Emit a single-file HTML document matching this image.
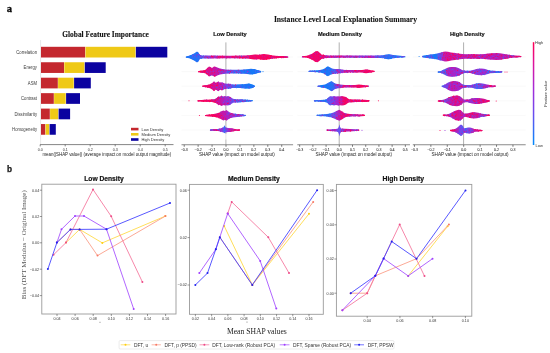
<!DOCTYPE html>
<html><head><meta charset="utf-8"><style>
html,body{margin:0;padding:0;background:#fff;}
body{width:550px;height:353px;overflow:hidden;}
svg{display:block;will-change:transform;}
</style></head><body>
<svg width="550" height="353" viewBox="0 0 550 353">
<rect width="550" height="353" fill="#fff"/>
<text x="6.70" y="12.30" font-family='"Liberation Serif",serif' font-size="10.6" font-weight="bold" text-anchor="start" fill="#111"  stroke="#111" stroke-width="0.3">a</text>
<text x="62.30" y="36.90" font-family='"Liberation Serif",serif' font-size="7.2" font-weight="bold" text-anchor="start" fill="#111"  textLength="86.4" lengthAdjust="spacingAndGlyphs" stroke="#111" stroke-width="0.1">Global Feature Importance</text>
<line x1="40.6" y1="40" x2="40.6" y2="144.6" stroke="#d8d8d8" stroke-width="0.6"/>
<rect x="41.0" y="46.80" width="44.20" height="10.7" fill="#c4282e"/>
<rect x="85.50" y="46.80" width="50.00" height="10.7" fill="#efc916"/>
<rect x="135.90" y="46.80" width="31.40" height="10.7" fill="#0b02a0"/>
<text x="37.00" y="53.75" font-family='"Liberation Sans",sans-serif' font-size="4.5" font-weight="normal" text-anchor="end" fill="#3a3a3a"  textLength="20.69" lengthAdjust="spacingAndGlyphs">Correlation</text>
<rect x="41.0" y="62.25" width="23.00" height="10.7" fill="#c4282e"/>
<rect x="64.30" y="62.25" width="20.10" height="10.7" fill="#efc916"/>
<rect x="84.80" y="62.25" width="20.90" height="10.7" fill="#0b02a0"/>
<text x="37.00" y="69.20" font-family='"Liberation Sans",sans-serif' font-size="4.5" font-weight="normal" text-anchor="end" fill="#3a3a3a"  textLength="13.4" lengthAdjust="spacingAndGlyphs">Energy</text>
<rect x="41.0" y="77.70" width="16.80" height="10.7" fill="#c4282e"/>
<rect x="58.10" y="77.70" width="15.60" height="10.7" fill="#efc916"/>
<rect x="74.10" y="77.70" width="16.70" height="10.7" fill="#0b02a0"/>
<text x="37.00" y="84.65" font-family='"Liberation Sans",sans-serif' font-size="4.5" font-weight="normal" text-anchor="end" fill="#3a3a3a"  textLength="9.17" lengthAdjust="spacingAndGlyphs">ASM</text>
<rect x="41.0" y="93.15" width="12.80" height="10.7" fill="#c4282e"/>
<rect x="54.10" y="93.15" width="11.60" height="10.7" fill="#efc916"/>
<rect x="66.10" y="93.15" width="13.90" height="10.7" fill="#0b02a0"/>
<text x="37.00" y="100.10" font-family='"Liberation Sans",sans-serif' font-size="4.5" font-weight="normal" text-anchor="end" fill="#3a3a3a"  textLength="15.99" lengthAdjust="spacingAndGlyphs">Contrast</text>
<rect x="41.0" y="108.60" width="8.80" height="10.7" fill="#c4282e"/>
<rect x="50.10" y="108.60" width="8.10" height="10.7" fill="#efc916"/>
<rect x="58.60" y="108.60" width="11.50" height="10.7" fill="#0b02a0"/>
<text x="37.00" y="115.55" font-family='"Liberation Sans",sans-serif' font-size="4.5" font-weight="normal" text-anchor="end" fill="#3a3a3a"  textLength="22.56" lengthAdjust="spacingAndGlyphs">Dissimilarity</text>
<rect x="41.0" y="124.05" width="4.30" height="10.7" fill="#c4282e"/>
<rect x="45.60" y="124.05" width="3.60" height="10.7" fill="#efc916"/>
<rect x="49.60" y="124.05" width="6.20" height="10.7" fill="#0b02a0"/>
<text x="37.00" y="131.00" font-family='"Liberation Sans",sans-serif' font-size="4.5" font-weight="normal" text-anchor="end" fill="#3a3a3a"  textLength="24.92" lengthAdjust="spacingAndGlyphs">Homogeneity</text>
<line x1="40.2" y1="144.6" x2="173.5" y2="144.6" stroke="#333" stroke-width="0.6"/>
<line x1="40.20" y1="144.6" x2="40.20" y2="146.4" stroke="#333" stroke-width="0.6"/>
<text x="40.20" y="151.00" font-family='"Liberation Sans",sans-serif' font-size="3.7" font-weight="normal" text-anchor="middle" fill="#333" >0.0</text>
<line x1="65.20" y1="144.6" x2="65.20" y2="146.4" stroke="#333" stroke-width="0.6"/>
<text x="65.20" y="151.00" font-family='"Liberation Sans",sans-serif' font-size="3.7" font-weight="normal" text-anchor="middle" fill="#333" >0.1</text>
<line x1="90.20" y1="144.6" x2="90.20" y2="146.4" stroke="#333" stroke-width="0.6"/>
<text x="90.20" y="151.00" font-family='"Liberation Sans",sans-serif' font-size="3.7" font-weight="normal" text-anchor="middle" fill="#333" >0.2</text>
<line x1="115.20" y1="144.6" x2="115.20" y2="146.4" stroke="#333" stroke-width="0.6"/>
<text x="115.20" y="151.00" font-family='"Liberation Sans",sans-serif' font-size="3.7" font-weight="normal" text-anchor="middle" fill="#333" >0.3</text>
<line x1="140.20" y1="144.6" x2="140.20" y2="146.4" stroke="#333" stroke-width="0.6"/>
<text x="140.20" y="151.00" font-family='"Liberation Sans",sans-serif' font-size="3.7" font-weight="normal" text-anchor="middle" fill="#333" >0.4</text>
<line x1="165.20" y1="144.6" x2="165.20" y2="146.4" stroke="#333" stroke-width="0.6"/>
<text x="165.20" y="151.00" font-family='"Liberation Sans",sans-serif' font-size="3.7" font-weight="normal" text-anchor="middle" fill="#333" >0.5</text>
<text x="42.40" y="156.40" font-family='"Liberation Sans",sans-serif' font-size="4.42" font-weight="normal" text-anchor="start" fill="#222" >mean(|SHAP value|) (average impact on model output magnitude)</text>
<rect x="131" y="127.80" width="7.5" height="2.6" fill="#c4282e"/>
<text x="141.50" y="130.50" font-family='"Liberation Sans",sans-serif' font-size="4.0" font-weight="normal" text-anchor="start" fill="#333" >Low Density</text>
<rect x="131" y="133.00" width="7.5" height="2.6" fill="#efc916"/>
<text x="141.50" y="135.70" font-family='"Liberation Sans",sans-serif' font-size="4.0" font-weight="normal" text-anchor="start" fill="#333" >Medium Density</text>
<rect x="131" y="138.20" width="7.5" height="2.6" fill="#0b02a0"/>
<text x="141.50" y="140.90" font-family='"Liberation Sans",sans-serif' font-size="4.0" font-weight="normal" text-anchor="start" fill="#333" >High Density</text>
<text x="273.90" y="21.80" font-family='"Liberation Serif",serif' font-size="7.2" font-weight="bold" text-anchor="start" fill="#111"  textLength="143.1" lengthAdjust="spacingAndGlyphs" stroke="#111" stroke-width="0.08">Instance Level Local Explanation Summary</text>
<text x="213.20" y="35.90" font-family='"Liberation Sans",sans-serif' font-size="5.5" font-weight="bold" text-anchor="start" fill="#111"  textLength="33.6" lengthAdjust="spacingAndGlyphs" stroke="#111" stroke-width="0.16">Low Density</text>
<text x="317.90" y="35.70" font-family='"Liberation Sans",sans-serif' font-size="5.5" font-weight="bold" text-anchor="start" fill="#111"  textLength="44.0" lengthAdjust="spacingAndGlyphs" stroke="#111" stroke-width="0.16">Medium Density</text>
<text x="450.00" y="35.90" font-family='"Liberation Sans",sans-serif' font-size="5.5" font-weight="bold" text-anchor="start" fill="#111"  textLength="34.7" lengthAdjust="spacingAndGlyphs" stroke="#111" stroke-width="0.16">High Density</text>
<line x1="181.5" y1="57.0" x2="293.1" y2="57.0" stroke="#f2f2f2" stroke-width="0.5"/>
<line x1="181.5" y1="71.6" x2="293.1" y2="71.6" stroke="#f2f2f2" stroke-width="0.5"/>
<line x1="181.5" y1="86.2" x2="293.1" y2="86.2" stroke="#f2f2f2" stroke-width="0.5"/>
<line x1="181.5" y1="100.8" x2="293.1" y2="100.8" stroke="#f2f2f2" stroke-width="0.5"/>
<line x1="181.5" y1="115.4" x2="293.1" y2="115.4" stroke="#f2f2f2" stroke-width="0.5"/>
<line x1="181.5" y1="130.0" x2="293.1" y2="130.0" stroke="#f2f2f2" stroke-width="0.5"/>
<line x1="225.9" y1="42.4" x2="225.9" y2="134" stroke="#b0b0b0" stroke-width="1.0"/>
<line x1="225.9" y1="134" x2="225.9" y2="139.5" stroke="#e2e2e2" stroke-width="0.9"/>
<line x1="225.9" y1="139.5" x2="225.9" y2="144.7" stroke="#b0b0b0" stroke-width="0.9"/>
<line x1="181.5" y1="144.75" x2="293.1" y2="144.75" stroke="#8a8a8a" stroke-width="1.0"/>
<line x1="184.21" y1="144.8" x2="184.21" y2="146.8" stroke="#444" stroke-width="0.7"/>
<text x="184.21" y="150.90" font-family='"Liberation Sans",sans-serif' font-size="3.6" font-weight="normal" text-anchor="middle" fill="#333"  stroke="#333" stroke-width="0.06">−0.3</text>
<line x1="198.14" y1="144.8" x2="198.14" y2="146.8" stroke="#444" stroke-width="0.7"/>
<text x="198.14" y="150.90" font-family='"Liberation Sans",sans-serif' font-size="3.6" font-weight="normal" text-anchor="middle" fill="#333"  stroke="#333" stroke-width="0.06">−0.2</text>
<line x1="212.07" y1="144.8" x2="212.07" y2="146.8" stroke="#444" stroke-width="0.7"/>
<text x="212.07" y="150.90" font-family='"Liberation Sans",sans-serif' font-size="3.6" font-weight="normal" text-anchor="middle" fill="#333"  stroke="#333" stroke-width="0.06">−0.1</text>
<line x1="226.00" y1="144.8" x2="226.00" y2="146.8" stroke="#444" stroke-width="0.7"/>
<text x="226.00" y="150.90" font-family='"Liberation Sans",sans-serif' font-size="3.6" font-weight="normal" text-anchor="middle" fill="#333"  stroke="#333" stroke-width="0.06">0.0</text>
<line x1="239.93" y1="144.8" x2="239.93" y2="146.8" stroke="#444" stroke-width="0.7"/>
<text x="239.93" y="150.90" font-family='"Liberation Sans",sans-serif' font-size="3.6" font-weight="normal" text-anchor="middle" fill="#333"  stroke="#333" stroke-width="0.06">0.1</text>
<line x1="253.86" y1="144.8" x2="253.86" y2="146.8" stroke="#444" stroke-width="0.7"/>
<text x="253.86" y="150.90" font-family='"Liberation Sans",sans-serif' font-size="3.6" font-weight="normal" text-anchor="middle" fill="#333"  stroke="#333" stroke-width="0.06">0.2</text>
<line x1="267.79" y1="144.8" x2="267.79" y2="146.8" stroke="#444" stroke-width="0.7"/>
<text x="267.79" y="150.90" font-family='"Liberation Sans",sans-serif' font-size="3.6" font-weight="normal" text-anchor="middle" fill="#333"  stroke="#333" stroke-width="0.06">0.3</text>
<line x1="281.72" y1="144.8" x2="281.72" y2="146.8" stroke="#444" stroke-width="0.7"/>
<text x="281.72" y="150.90" font-family='"Liberation Sans",sans-serif' font-size="3.6" font-weight="normal" text-anchor="middle" fill="#333"  stroke="#333" stroke-width="0.06">0.4</text>
<line x1="297.3" y1="57.0" x2="410.0" y2="57.0" stroke="#f2f2f2" stroke-width="0.5"/>
<line x1="297.3" y1="71.6" x2="410.0" y2="71.6" stroke="#f2f2f2" stroke-width="0.5"/>
<line x1="297.3" y1="86.2" x2="410.0" y2="86.2" stroke="#f2f2f2" stroke-width="0.5"/>
<line x1="297.3" y1="100.8" x2="410.0" y2="100.8" stroke="#f2f2f2" stroke-width="0.5"/>
<line x1="297.3" y1="115.4" x2="410.0" y2="115.4" stroke="#f2f2f2" stroke-width="0.5"/>
<line x1="297.3" y1="130.0" x2="410.0" y2="130.0" stroke="#f2f2f2" stroke-width="0.5"/>
<line x1="339.2" y1="42.4" x2="339.2" y2="144.7" stroke="#b0b0b0" stroke-width="1.0"/>
<line x1="297.3" y1="144.75" x2="410.0" y2="144.75" stroke="#8a8a8a" stroke-width="1.0"/>
<line x1="299.67" y1="144.8" x2="299.67" y2="146.8" stroke="#444" stroke-width="0.7"/>
<text x="299.67" y="150.90" font-family='"Liberation Sans",sans-serif' font-size="3.6" font-weight="normal" text-anchor="middle" fill="#333"  stroke="#333" stroke-width="0.06">−0.3</text>
<line x1="312.88" y1="144.8" x2="312.88" y2="146.8" stroke="#444" stroke-width="0.7"/>
<text x="312.88" y="150.90" font-family='"Liberation Sans",sans-serif' font-size="3.6" font-weight="normal" text-anchor="middle" fill="#333"  stroke="#333" stroke-width="0.06">−0.2</text>
<line x1="326.09" y1="144.8" x2="326.09" y2="146.8" stroke="#444" stroke-width="0.7"/>
<text x="326.09" y="150.90" font-family='"Liberation Sans",sans-serif' font-size="3.6" font-weight="normal" text-anchor="middle" fill="#333"  stroke="#333" stroke-width="0.06">−0.1</text>
<line x1="339.30" y1="144.8" x2="339.30" y2="146.8" stroke="#444" stroke-width="0.7"/>
<text x="339.30" y="150.90" font-family='"Liberation Sans",sans-serif' font-size="3.6" font-weight="normal" text-anchor="middle" fill="#333"  stroke="#333" stroke-width="0.06">0.0</text>
<line x1="352.51" y1="144.8" x2="352.51" y2="146.8" stroke="#444" stroke-width="0.7"/>
<text x="352.51" y="150.90" font-family='"Liberation Sans",sans-serif' font-size="3.6" font-weight="normal" text-anchor="middle" fill="#333"  stroke="#333" stroke-width="0.06">0.1</text>
<line x1="365.72" y1="144.8" x2="365.72" y2="146.8" stroke="#444" stroke-width="0.7"/>
<text x="365.72" y="150.90" font-family='"Liberation Sans",sans-serif' font-size="3.6" font-weight="normal" text-anchor="middle" fill="#333"  stroke="#333" stroke-width="0.06">0.2</text>
<line x1="378.93" y1="144.8" x2="378.93" y2="146.8" stroke="#444" stroke-width="0.7"/>
<text x="378.93" y="150.90" font-family='"Liberation Sans",sans-serif' font-size="3.6" font-weight="normal" text-anchor="middle" fill="#333"  stroke="#333" stroke-width="0.06">0.3</text>
<line x1="392.14" y1="144.8" x2="392.14" y2="146.8" stroke="#444" stroke-width="0.7"/>
<text x="392.14" y="150.90" font-family='"Liberation Sans",sans-serif' font-size="3.6" font-weight="normal" text-anchor="middle" fill="#333"  stroke="#333" stroke-width="0.06">0.4</text>
<line x1="405.35" y1="144.8" x2="405.35" y2="146.8" stroke="#444" stroke-width="0.7"/>
<text x="405.35" y="150.90" font-family='"Liberation Sans",sans-serif' font-size="3.6" font-weight="normal" text-anchor="middle" fill="#333"  stroke="#333" stroke-width="0.06">0.5</text>
<line x1="412.8" y1="57.0" x2="525.7" y2="57.0" stroke="#f2f2f2" stroke-width="0.5"/>
<line x1="412.8" y1="71.6" x2="525.7" y2="71.6" stroke="#f2f2f2" stroke-width="0.5"/>
<line x1="412.8" y1="86.2" x2="525.7" y2="86.2" stroke="#f2f2f2" stroke-width="0.5"/>
<line x1="412.8" y1="100.8" x2="525.7" y2="100.8" stroke="#f2f2f2" stroke-width="0.5"/>
<line x1="412.8" y1="115.4" x2="525.7" y2="115.4" stroke="#f2f2f2" stroke-width="0.5"/>
<line x1="412.8" y1="130.0" x2="525.7" y2="130.0" stroke="#f2f2f2" stroke-width="0.5"/>
<line x1="463.59999999999997" y1="42.4" x2="463.59999999999997" y2="144.7" stroke="#b0b0b0" stroke-width="1.0"/>
<line x1="412.8" y1="144.75" x2="525.7" y2="144.75" stroke="#8a8a8a" stroke-width="1.0"/>
<line x1="414.44" y1="144.8" x2="414.44" y2="146.8" stroke="#444" stroke-width="0.7"/>
<text x="414.44" y="150.90" font-family='"Liberation Sans",sans-serif' font-size="3.6" font-weight="normal" text-anchor="middle" fill="#333"  stroke="#333" stroke-width="0.06">−0.3</text>
<line x1="430.86" y1="144.8" x2="430.86" y2="146.8" stroke="#444" stroke-width="0.7"/>
<text x="430.86" y="150.90" font-family='"Liberation Sans",sans-serif' font-size="3.6" font-weight="normal" text-anchor="middle" fill="#333"  stroke="#333" stroke-width="0.06">−0.2</text>
<line x1="447.28" y1="144.8" x2="447.28" y2="146.8" stroke="#444" stroke-width="0.7"/>
<text x="447.28" y="150.90" font-family='"Liberation Sans",sans-serif' font-size="3.6" font-weight="normal" text-anchor="middle" fill="#333"  stroke="#333" stroke-width="0.06">−0.1</text>
<line x1="463.70" y1="144.8" x2="463.70" y2="146.8" stroke="#444" stroke-width="0.7"/>
<text x="463.70" y="150.90" font-family='"Liberation Sans",sans-serif' font-size="3.6" font-weight="normal" text-anchor="middle" fill="#333"  stroke="#333" stroke-width="0.06">0.0</text>
<line x1="480.12" y1="144.8" x2="480.12" y2="146.8" stroke="#444" stroke-width="0.7"/>
<text x="480.12" y="150.90" font-family='"Liberation Sans",sans-serif' font-size="3.6" font-weight="normal" text-anchor="middle" fill="#333"  stroke="#333" stroke-width="0.06">0.1</text>
<line x1="496.54" y1="144.8" x2="496.54" y2="146.8" stroke="#444" stroke-width="0.7"/>
<text x="496.54" y="150.90" font-family='"Liberation Sans",sans-serif' font-size="3.6" font-weight="normal" text-anchor="middle" fill="#333"  stroke="#333" stroke-width="0.06">0.2</text>
<line x1="512.96" y1="144.8" x2="512.96" y2="146.8" stroke="#444" stroke-width="0.7"/>
<text x="512.96" y="150.90" font-family='"Liberation Sans",sans-serif' font-size="3.6" font-weight="normal" text-anchor="middle" fill="#333"  stroke="#333" stroke-width="0.06">0.3</text>
<text x="198.90" y="155.80" font-family='"Liberation Sans",sans-serif' font-size="4.55" font-weight="normal" text-anchor="start" fill="#222" >SHAP value (impact on model output)</text>
<text x="315.50" y="155.80" font-family='"Liberation Sans",sans-serif' font-size="4.59" font-weight="normal" text-anchor="start" fill="#222" >SHAP value (impact on model output)</text>
<text x="431.50" y="155.80" font-family='"Liberation Sans",sans-serif' font-size="4.61" font-weight="normal" text-anchor="start" fill="#222" >SHAP value (impact on model output)</text>
<defs><linearGradient id="cb" x1="0" y1="1" x2="0" y2="0"><stop offset="0" stop-color="#008bfb"/><stop offset="0.3" stop-color="#6a4cf0"/><stop offset="0.55" stop-color="#a52ad8"/><stop offset="0.8" stop-color="#e0129a"/><stop offset="1" stop-color="#ff0052"/></linearGradient></defs>
<rect x="532.8" y="42.2" width="1.5" height="102.8" fill="url(#cb)"/>
<text x="535.10" y="44.20" font-family='"Liberation Sans",sans-serif' font-size="4.0" font-weight="normal" text-anchor="start" fill="#333" >High</text>
<text x="535.50" y="146.60" font-family='"Liberation Sans",sans-serif' font-size="4.0" font-weight="normal" text-anchor="start" fill="#333" >Low</text>
<text x="0.00" y="0.00" font-family='"Liberation Sans",sans-serif' font-size="4.29" font-weight="normal" text-anchor="middle" fill="#333" transform="translate(546.6,93.7) rotate(-90)">Feature value</text>
<defs><linearGradient id="g1" gradientUnits="userSpaceOnUse" x1="186.2" y1="0" x2="288" y2="0"><stop offset="-0.002" stop-color="#1f75f6"/><stop offset="0.116" stop-color="#2771f6"/><stop offset="0.165" stop-color="#6255f0"/><stop offset="0.234" stop-color="#a227ce"/><stop offset="0.332" stop-color="#c816a4"/><stop offset="0.528" stop-color="#d41096"/><stop offset="0.646" stop-color="#ee066d"/><stop offset="0.843" stop-color="#f60360"/><stop offset="1.000" stop-color="#e50a7b"/></linearGradient></defs>
<polygon points="186.2,56.5 188.0,56.0 190.0,55.4 192.0,54.6 194.0,53.6 195.5,52.4 196.5,51.8 197.5,51.8 198.5,52.6 199.3,54.0 200.0,55.0 202.0,55.4 205.0,55.6 230.0,55.8 245.0,55.6 249.0,55.2 253.0,54.8 256.0,54.5 259.0,54.7 263.8,54.1 268.0,54.5 272.8,55.4 278.0,55.9 285.0,56.1 288.0,56.4 288.0,57.6 285.0,57.9 278.0,58.1 272.8,58.6 268.0,59.5 263.8,59.9 259.0,59.3 256.0,59.5 253.0,59.2 249.0,58.8 245.0,58.4 230.0,58.2 205.0,58.4 202.0,58.6 200.0,59.0 199.3,60.0 198.5,61.4 197.5,62.2 196.5,62.2 195.5,61.6 194.0,60.4 192.0,59.4 190.0,58.6 188.0,58.0 186.2,57.5" fill="url(#g1)"/>
<defs><linearGradient id="g2" gradientUnits="userSpaceOnUse" x1="198.6" y1="0" x2="261.2" y2="0"><stop offset="0.006" stop-color="#f60360"/><stop offset="0.134" stop-color="#dd0d88"/><stop offset="0.246" stop-color="#cd139e"/><stop offset="0.342" stop-color="#af21c0"/><stop offset="0.438" stop-color="#8937e1"/><stop offset="0.597" stop-color="#4864f5"/><stop offset="0.741" stop-color="#1f75f6"/><stop offset="0.997" stop-color="#127af6"/></linearGradient></defs>
<polygon points="198.6,71.1 202.0,70.6 205.2,70.1 207.0,68.6 209.0,66.6 210.5,67.1 212.0,68.0 214.0,66.6 215.5,66.8 217.3,67.6 220.0,68.6 225.0,69.4 230.0,69.8 240.0,69.8 245.0,69.4 251.0,68.8 255.0,69.3 258.0,70.2 261.2,71.0 261.2,72.2 258.0,73.0 255.0,73.9 251.0,74.4 245.0,73.8 240.0,73.4 230.0,73.4 225.0,73.8 220.0,74.6 217.3,75.6 215.5,76.4 214.0,76.6 212.0,75.2 210.5,76.1 209.0,76.6 207.0,74.6 205.2,73.1 202.0,72.6 198.6,72.1" fill="url(#g2)"/>
<defs><linearGradient id="g3" gradientUnits="userSpaceOnUse" x1="202.6" y1="0" x2="254.8" y2="0"><stop offset="0.008" stop-color="#f60360"/><stop offset="0.180" stop-color="#dd0d88"/><stop offset="0.295" stop-color="#c816a4"/><stop offset="0.372" stop-color="#a227ce"/><stop offset="0.487" stop-color="#7c41e6"/><stop offset="0.640" stop-color="#2d6ff6"/><stop offset="1.004" stop-color="#127af6"/></linearGradient></defs>
<polygon points="202.6,85.7 206.0,85.2 210.0,84.2 212.5,82.7 214.0,81.2 215.5,82.7 217.0,82.2 218.5,81.2 220.0,82.7 221.0,82.4 222.4,82.2 224.0,83.2 227.0,83.7 230.0,83.7 232.0,84.4 240.0,84.4 245.0,83.9 249.0,83.6 252.0,84.2 254.8,85.6 254.8,86.8 252.0,88.2 249.0,88.8 245.0,88.5 240.0,88.0 232.0,88.0 230.0,88.7 227.0,88.7 224.0,89.2 222.4,90.2 221.0,90.0 220.0,89.7 218.5,91.2 217.0,90.2 215.5,89.7 214.0,91.2 212.5,89.7 210.0,88.2 206.0,87.2 202.6,86.7" fill="url(#g3)"/>
<defs><linearGradient id="g4" gradientUnits="userSpaceOnUse" x1="197.7" y1="0" x2="252.4" y2="0"><stop offset="0.005" stop-color="#ff0052"/><stop offset="0.261" stop-color="#f60360"/><stop offset="0.371" stop-color="#d41096"/><stop offset="0.481" stop-color="#af21c0"/><stop offset="0.590" stop-color="#8937e1"/><stop offset="0.700" stop-color="#6255f0"/><stop offset="0.865" stop-color="#2d6ff6"/><stop offset="0.993" stop-color="#1f75f6"/></linearGradient></defs>
<polygon points="197.7,100.3 205.0,99.8 212.0,99.5 215.0,99.0 217.0,97.8 218.5,96.3 220.0,96.8 221.3,95.6 223.0,96.6 225.0,96.0 226.5,96.4 228.0,96.0 230.0,96.8 231.5,97.8 233.0,98.8 236.0,99.2 245.0,99.5 252.4,100.3 252.4,101.3 245.0,102.1 236.0,102.4 233.0,102.8 231.5,103.8 230.0,104.8 228.0,105.6 226.5,105.2 225.0,105.6 223.0,105.0 221.3,106.0 220.0,104.8 218.5,105.3 217.0,103.8 215.0,102.6 212.0,102.1 205.0,101.8 197.7,101.3" fill="url(#g4)"/>
<defs><linearGradient id="g5" gradientUnits="userSpaceOnUse" x1="205.4" y1="0" x2="245.7" y2="0"><stop offset="-0.010" stop-color="#ff0052"/><stop offset="0.263" stop-color="#ee066d"/><stop offset="0.412" stop-color="#c816a4"/><stop offset="0.561" stop-color="#af21c0"/><stop offset="0.710" stop-color="#962ddc"/><stop offset="0.859" stop-color="#6255f0"/><stop offset="0.983" stop-color="#3a6af5"/></linearGradient></defs>
<polygon points="205.4,114.9 210.0,114.4 215.0,113.8 218.0,113.0 220.0,112.2 221.5,111.2 223.4,110.4 225.0,111.1 226.6,110.0 228.0,111.2 230.0,112.6 233.0,113.4 237.0,113.9 241.0,114.2 245.7,114.9 245.7,115.9 241.0,116.6 237.0,116.9 233.0,117.4 230.0,118.2 228.0,119.6 226.6,120.8 225.0,119.7 223.4,120.4 221.5,119.6 220.0,118.6 218.0,117.8 215.0,117.0 210.0,116.4 205.4,115.9" fill="url(#g5)"/>
<defs><linearGradient id="g6" gradientUnits="userSpaceOnUse" x1="210" y1="0" x2="240" y2="0"><stop offset="0.000" stop-color="#6f4beb"/><stop offset="0.200" stop-color="#c816a4"/><stop offset="0.400" stop-color="#8937e1"/><stop offset="0.483" stop-color="#3a6af5"/><stop offset="0.567" stop-color="#8937e1"/><stop offset="0.700" stop-color="#c816a4"/><stop offset="1.000" stop-color="#ee066d"/></linearGradient></defs>
<polygon points="210.0,129.3 218.0,129.0 221.0,128.2 223.5,127.2 224.5,125.2 225.5,127.2 228.0,128.0 232.0,128.2 235.0,128.9 240.0,129.4 240.0,130.6 235.0,131.1 232.0,131.8 228.0,132.0 225.5,132.4 224.5,133.2 223.5,132.6 221.0,131.8 218.0,131.0 210.0,130.7" fill="url(#g6)"/>
<defs><linearGradient id="g7" gradientUnits="userSpaceOnUse" x1="302.1" y1="0" x2="405" y2="0"><stop offset="-0.001" stop-color="#f10568"/><stop offset="0.184" stop-color="#ee066d"/><stop offset="0.232" stop-color="#c318aa"/><stop offset="0.466" stop-color="#aa24c6"/><stop offset="0.679" stop-color="#9131de"/><stop offset="0.796" stop-color="#2d6ff6"/><stop offset="1.000" stop-color="#127af6"/></linearGradient></defs>
<polygon points="302.1,56.1 306.0,55.9 308.0,55.4 310.5,54.5 312.5,53.5 314.5,52.1 316.0,51.3 317.5,51.1 319.0,52.1 320.3,53.5 321.5,54.5 322.5,54.7 323.5,54.5 325.0,55.4 340.0,55.6 360.0,55.6 380.0,55.5 384.0,55.1 386.0,54.5 388.7,54.2 391.0,54.5 393.0,55.1 398.0,55.6 405.0,56.2 405.0,57.2 398.0,57.8 393.0,58.3 391.0,58.9 388.7,59.2 386.0,58.9 384.0,58.3 380.0,57.9 360.0,57.8 340.0,57.8 325.0,58.0 323.5,58.9 322.5,58.7 321.5,58.9 320.3,59.9 319.0,61.3 317.5,62.3 316.0,62.1 314.5,61.3 312.5,59.9 310.5,58.9 308.0,58.0 306.0,57.5 302.1,57.3" fill="url(#g7)"/>
<defs><linearGradient id="g8" gradientUnits="userSpaceOnUse" x1="308.8" y1="0" x2="374.3" y2="0"><stop offset="0.003" stop-color="#127af6"/><stop offset="0.324" stop-color="#1f75f6"/><stop offset="0.415" stop-color="#6f4beb"/><stop offset="0.522" stop-color="#a227ce"/><stop offset="0.660" stop-color="#c816a4"/><stop offset="0.812" stop-color="#ee066d"/><stop offset="0.995" stop-color="#f60360"/></linearGradient></defs>
<polygon points="308.8,70.8 315.0,70.5 318.0,70.3 320.0,70.1 323.0,69.3 325.0,68.3 326.5,67.1 327.9,66.3 329.3,67.1 331.0,68.1 333.0,68.7 335.0,68.9 338.7,69.1 342.0,69.5 345.0,69.9 350.0,70.1 362.0,70.1 364.0,69.7 366.0,69.3 368.0,69.7 371.0,70.2 374.3,70.8 374.3,71.8 371.0,72.4 368.0,72.9 366.0,73.3 364.0,72.9 362.0,72.5 350.0,72.5 345.0,72.7 342.0,73.1 338.7,73.5 335.0,73.7 333.0,73.9 331.0,74.5 329.3,75.5 327.9,76.3 326.5,75.5 325.0,74.3 323.0,73.3 320.0,72.5 318.0,72.3 315.0,72.1 308.8,71.8" fill="url(#g8)"/>
<defs><linearGradient id="g9" gradientUnits="userSpaceOnUse" x1="317.7" y1="0" x2="368.6" y2="0"><stop offset="0.006" stop-color="#127af6"/><stop offset="0.281" stop-color="#1f75f6"/><stop offset="0.379" stop-color="#7c41e6"/><stop offset="0.536" stop-color="#c816a4"/><stop offset="0.713" stop-color="#d41096"/><stop offset="0.792" stop-color="#f60360"/><stop offset="0.988" stop-color="#f60360"/></linearGradient></defs>
<polygon points="317.7,85.7 322.0,85.0 325.0,84.4 327.0,83.6 329.0,82.6 330.5,81.6 331.7,81.2 333.0,82.0 334.5,83.2 337.0,84.0 340.0,84.4 345.0,85.0 355.0,85.0 357.0,84.7 359.0,84.4 361.0,84.7 365.0,85.2 368.6,85.7 368.6,86.7 365.0,87.2 361.0,87.7 359.0,88.0 357.0,87.7 355.0,87.4 345.0,87.4 340.0,88.0 337.0,88.4 334.5,89.2 333.0,90.4 331.7,91.2 330.5,90.8 329.0,89.8 327.0,88.8 325.0,88.0 322.0,87.4 317.7,86.7" fill="url(#g9)"/>
<defs><linearGradient id="g10" gradientUnits="userSpaceOnUse" x1="313.9" y1="0" x2="369.2" y2="0"><stop offset="0.002" stop-color="#1f75f6"/><stop offset="0.201" stop-color="#1f75f6"/><stop offset="0.291" stop-color="#6255f0"/><stop offset="0.400" stop-color="#962ddc"/><stop offset="0.472" stop-color="#c816a4"/><stop offset="0.544" stop-color="#ee066d"/><stop offset="0.653" stop-color="#ee066d"/><stop offset="0.834" stop-color="#e50a7b"/><stop offset="0.996" stop-color="#f60360"/></linearGradient></defs>
<polygon points="313.9,100.3 320.0,100.0 325.0,99.7 327.0,99.0 328.5,97.3 330.0,96.2 332.0,96.6 334.0,96.0 336.0,96.5 338.0,96.2 340.0,96.4 342.0,96.0 344.0,96.4 346.0,97.0 347.5,98.3 349.0,99.2 355.0,99.6 365.0,99.7 369.2,100.3 369.2,101.3 365.0,101.9 355.0,102.0 349.0,102.4 347.5,103.3 346.0,104.6 344.0,105.2 342.0,105.6 340.0,105.2 338.0,105.4 336.0,105.1 334.0,105.6 332.0,105.0 330.0,105.4 328.5,104.3 327.0,102.6 325.0,101.9 320.0,101.6 313.9,101.3" fill="url(#g10)"/>
<defs><linearGradient id="g11" gradientUnits="userSpaceOnUse" x1="316.6" y1="0" x2="364.6" y2="0"><stop offset="0.008" stop-color="#127af6"/><stop offset="0.237" stop-color="#2d6ff6"/><stop offset="0.362" stop-color="#6255f0"/><stop offset="0.446" stop-color="#af21c0"/><stop offset="0.529" stop-color="#e50a7b"/><stop offset="0.654" stop-color="#e50a7b"/><stop offset="0.800" stop-color="#bb1cb2"/><stop offset="0.987" stop-color="#ee066d"/></linearGradient></defs>
<polygon points="316.6,114.8 322.0,114.5 327.0,114.1 330.0,113.5 333.0,112.7 335.0,111.7 337.0,110.8 339.2,109.8 341.0,110.7 342.5,111.7 344.0,112.7 346.0,113.5 350.0,114.0 355.0,114.3 362.0,114.4 364.6,114.8 364.6,115.8 362.0,116.2 355.0,116.3 350.0,116.6 346.0,117.1 344.0,117.9 342.5,118.9 341.0,119.9 339.2,120.8 337.0,119.8 335.0,118.9 333.0,117.9 330.0,117.1 327.0,116.5 322.0,116.1 316.6,115.8" fill="url(#g11)"/>
<defs><linearGradient id="g12" gradientUnits="userSpaceOnUse" x1="326.8" y1="0" x2="358.8" y2="0"><stop offset="0.006" stop-color="#c816a4"/><stop offset="0.256" stop-color="#962ddc"/><stop offset="0.394" stop-color="#6255f0"/><stop offset="0.537" stop-color="#a227ce"/><stop offset="0.725" stop-color="#c816a4"/><stop offset="0.975" stop-color="#a227ce"/></linearGradient></defs>
<polygon points="326.8,129.6 333.0,129.2 336.0,128.9 338.0,128.4 338.8,126.7 339.4,124.2 340.0,126.7 341.0,128.4 345.0,128.8 350.0,129.0 358.8,129.6 358.8,130.8 350.0,131.4 345.0,131.6 341.0,132.0 340.0,133.7 339.4,136.5 338.8,133.7 338.0,132.0 336.0,131.5 333.0,131.2 326.8,130.8" fill="url(#g12)"/>
<defs><linearGradient id="g13" gradientUnits="userSpaceOnUse" x1="422.1" y1="0" x2="521.2" y2="0"><stop offset="-0.001" stop-color="#127af6"/><stop offset="0.140" stop-color="#1f75f6"/><stop offset="0.191" stop-color="#7c41e6"/><stop offset="0.231" stop-color="#c816a4"/><stop offset="0.302" stop-color="#dd0d88"/><stop offset="0.362" stop-color="#c816a4"/><stop offset="0.483" stop-color="#bb1cb2"/><stop offset="0.786" stop-color="#bb1cb2"/><stop offset="0.887" stop-color="#af21c0"/><stop offset="0.998" stop-color="#e50a7b"/></linearGradient></defs>
<polygon points="422.1,55.9 425.0,55.5 430.3,54.5 435.0,53.9 438.0,53.3 441.0,52.5 443.0,51.9 445.0,51.5 448.0,51.8 451.0,52.4 455.0,53.1 460.0,53.8 465.0,54.2 470.0,54.3 480.0,54.2 485.0,53.9 488.0,53.5 492.0,53.2 496.6,53.1 500.0,53.3 503.0,53.7 506.0,54.3 510.0,54.9 515.0,55.4 521.2,56.0 521.2,57.0 515.0,57.6 510.0,58.1 506.0,58.7 503.0,59.3 500.0,59.7 496.6,59.9 492.0,59.8 488.0,59.5 485.0,59.1 480.0,58.8 470.0,58.7 465.0,58.8 460.0,59.2 455.0,59.9 451.0,60.6 448.0,61.2 445.0,61.5 443.0,61.1 441.0,60.5 438.0,59.7 435.0,59.1 430.3,58.5 425.0,57.5 422.1,57.1" fill="url(#g13)"/>
<defs><linearGradient id="g14" gradientUnits="userSpaceOnUse" x1="438" y1="0" x2="502" y2="0"><stop offset="0.000" stop-color="#127af6"/><stop offset="0.094" stop-color="#4864f5"/><stop offset="0.156" stop-color="#af21c0"/><stop offset="0.312" stop-color="#a227ce"/><stop offset="0.422" stop-color="#6255f0"/><stop offset="0.578" stop-color="#8937e1"/><stop offset="0.734" stop-color="#8937e1"/><stop offset="0.891" stop-color="#2d6ff6"/><stop offset="1.000" stop-color="#127af6"/></linearGradient></defs>
<polygon points="438.0,71.4 441.0,70.9 443.0,70.1 445.0,68.9 447.0,67.9 449.0,67.3 451.0,67.0 454.0,67.1 457.0,67.5 459.0,68.3 461.0,69.4 463.0,70.4 465.0,70.8 470.0,70.7 473.0,70.1 475.0,69.4 478.0,68.8 481.0,68.5 484.0,68.7 486.0,69.2 488.0,69.9 490.0,70.5 495.0,70.9 502.0,71.4 502.0,72.4 495.0,72.9 490.0,73.3 488.0,73.9 486.0,74.6 484.0,75.1 481.0,75.3 478.0,75.0 475.0,74.4 473.0,73.7 470.0,73.1 465.0,73.0 463.0,73.4 461.0,74.4 459.0,75.5 457.0,76.3 454.0,76.7 451.0,76.8 449.0,76.5 447.0,75.9 445.0,74.9 443.0,73.7 441.0,72.9 438.0,72.4" fill="url(#g14)"/>
<defs><linearGradient id="g15" gradientUnits="userSpaceOnUse" x1="441.6" y1="0" x2="495.5" y2="0"><stop offset="0.007" stop-color="#1f75f6"/><stop offset="0.100" stop-color="#8937e1"/><stop offset="0.193" stop-color="#bb1cb2"/><stop offset="0.341" stop-color="#a227ce"/><stop offset="0.453" stop-color="#6255f0"/><stop offset="0.712" stop-color="#6255f0"/><stop offset="0.861" stop-color="#a227ce"/><stop offset="0.991" stop-color="#e50a7b"/></linearGradient></defs>
<polygon points="441.6,85.7 444.0,85.0 446.0,84.0 448.0,82.7 450.0,81.7 452.0,81.2 455.0,81.1 458.0,81.6 460.0,82.6 462.0,83.9 464.0,85.0 471.0,85.0 473.0,84.4 475.0,83.7 478.0,83.3 481.0,83.3 484.0,83.7 486.0,84.3 488.0,84.8 491.0,85.2 495.5,85.7 495.5,86.7 491.0,87.2 488.0,87.6 486.0,88.1 484.0,88.7 481.0,89.1 478.0,89.1 475.0,88.7 473.0,88.0 471.0,87.4 464.0,87.4 462.0,88.5 460.0,89.8 458.0,90.8 455.0,91.3 452.0,91.2 450.0,90.7 448.0,89.7 446.0,88.4 444.0,87.4 441.6,86.7" fill="url(#g15)"/>
<defs><linearGradient id="g16" gradientUnits="userSpaceOnUse" x1="438" y1="0" x2="489.6" y2="0"><stop offset="0.000" stop-color="#f60360"/><stop offset="0.116" stop-color="#6f4beb"/><stop offset="0.233" stop-color="#bb1cb2"/><stop offset="0.349" stop-color="#d90e8e"/><stop offset="0.465" stop-color="#bb1cb2"/><stop offset="0.620" stop-color="#a227ce"/><stop offset="0.814" stop-color="#bb1cb2"/><stop offset="0.988" stop-color="#ee066d"/></linearGradient></defs>
<polygon points="438.0,100.4 442.0,100.0 445.0,99.3 447.0,98.3 449.0,97.3 451.0,96.4 454.0,95.7 457.0,95.5 459.5,96.1 461.0,97.1 462.5,98.4 464.0,99.5 468.0,99.6 470.0,98.9 472.0,98.3 475.0,97.9 478.0,97.9 481.0,98.2 484.0,98.8 486.0,99.4 489.6,100.4 489.6,101.4 486.0,102.4 484.0,103.0 481.0,103.6 478.0,103.9 475.0,103.9 472.0,103.5 470.0,102.9 468.0,102.2 464.0,102.3 462.5,103.4 461.0,104.7 459.5,105.7 457.0,106.3 454.0,106.1 451.0,105.4 449.0,104.5 447.0,103.5 445.0,102.5 442.0,101.8 438.0,101.4" fill="url(#g16)"/>
<defs><linearGradient id="g17" gradientUnits="userSpaceOnUse" x1="443" y1="0" x2="489.6" y2="0"><stop offset="0.000" stop-color="#f60360"/><stop offset="0.150" stop-color="#a227ce"/><stop offset="0.300" stop-color="#d90e8e"/><stop offset="0.429" stop-color="#bb1cb2"/><stop offset="0.579" stop-color="#d41096"/><stop offset="0.751" stop-color="#bb1cb2"/><stop offset="0.880" stop-color="#6255f0"/><stop offset="0.987" stop-color="#ee066d"/></linearGradient></defs>
<polygon points="443.0,114.8 447.0,114.4 450.0,113.5 452.0,112.5 454.0,111.3 456.0,110.4 458.5,109.8 460.5,110.1 462.0,111.3 463.5,113.1 465.0,113.8 467.0,113.6 469.0,112.9 471.0,112.4 474.0,112.2 477.0,112.4 479.0,112.9 481.0,113.5 484.0,114.1 489.6,114.8 489.6,115.8 484.0,116.5 481.0,117.1 479.0,117.7 477.0,118.2 474.0,118.4 471.0,118.2 469.0,117.7 467.0,117.0 465.0,116.8 463.5,117.5 462.0,119.3 460.5,120.5 458.5,120.8 456.0,120.2 454.0,119.3 452.0,118.1 450.0,117.1 447.0,116.2 443.0,115.8" fill="url(#g17)"/>
<defs><linearGradient id="g18" gradientUnits="userSpaceOnUse" x1="450.4" y1="0" x2="482.4" y2="0"><stop offset="-0.012" stop-color="#f60360"/><stop offset="0.144" stop-color="#c816a4"/><stop offset="0.269" stop-color="#8937e1"/><stop offset="0.331" stop-color="#6f4beb"/><stop offset="0.394" stop-color="#7c41e6"/><stop offset="0.488" stop-color="#6f4beb"/><stop offset="0.613" stop-color="#7c41e6"/><stop offset="0.800" stop-color="#c816a4"/><stop offset="0.988" stop-color="#ee066d"/></linearGradient></defs>
<polygon points="450.4,129.9 454.0,129.3 456.0,128.5 458.0,127.1 459.5,125.5 461.0,124.5 462.5,125.5 463.5,127.3 464.5,128.5 466.0,128.1 468.0,127.6 470.0,127.5 472.0,128.1 474.0,128.9 478.0,129.5 482.4,130.0 482.4,131.0 478.0,131.5 474.0,132.1 472.0,132.9 470.0,133.5 468.0,133.4 466.0,132.9 464.5,132.5 463.5,133.5 462.5,135.0 461.0,136.0 459.5,135.1 458.0,133.7 456.0,132.5 454.0,131.7 450.4,131.1" fill="url(#g18)"/>
<path d="M200.9 55.8h0M192.3 55.7h0M199.4 55.7h0M186.6 56.9h0M241.5 56.0h0M189.0 56.6h0M206.2 56.4h0M201.1 58.0h0M198.6 56.5h0M202.6 56.8h0M188.0 56.8h0M201.4 58.2h0M193.6 59.5h0M194.7 59.6h0M193.0 58.9h0M197.3 53.7h0M191.3 55.9h0M190.4 55.6h0M190.7 58.0h0M200.4 57.1h0M196.9 60.3h0M193.8 55.6h0M236.5 56.8h0M192.4 55.9h0M186.6 57.0h0M196.6 60.3h0M189.5 57.5h0M197.3 53.6h0M197.6 52.9h0M191.2 56.9h0M201.8 58.0h0M190.3 56.4h0M187.4 56.8h0M192.6 55.1h0M186.8 57.3h0M187.7 57.1h0M195.3 58.0h0M206.3 56.2h0M251.1 69.7h0M236.1 71.8h0M227.3 70.5h0M244.5 72.6h0M230.6 70.3h0M258.1 70.8h0M252.3 73.9h0M248.0 73.5h0M254.7 70.7h0M249.7 69.9h0M234.9 72.7h0M248.5 70.5h0M260.6 71.7h0M238.6 73.1h0M237.2 71.4h0M253.1 72.9h0M257.3 72.2h0M257.5 70.7h0M249.5 70.1h0M245.0 71.4h0M242.1 72.8h0M233.3 71.4h0M248.0 71.7h0M253.7 69.5h0M238.1 72.2h0M228.0 72.7h0M242.3 72.8h0M242.0 72.0h0M251.7 73.1h0M238.1 71.0h0M237.9 71.2h0M254.2 69.6h0M245.7 72.2h0M244.5 71.4h0M238.2 71.5h0M234.5 72.3h0M238.8 71.5h0M238.0 70.9h0M228.0 71.8h0M250.8 70.9h0M251.9 70.5h0M256.7 72.6h0M231.8 72.3h0M229.4 71.6h0M258.7 70.8h0M241.3 73.0h0M254.8 69.7h0M250.4 71.1h0M230.1 70.9h0M239.8 72.5h0M255.6 72.0h0M242.2 71.9h0M241.2 70.7h0M246.3 70.0h0M239.6 71.2h0M250.1 73.0h0M256.1 71.4h0M260.0 71.6h0M244.5 70.4h0M244.3 70.1h0M238.0 72.2h0M257.8 72.3h0M242.6 72.7h0M236.2 71.0h0M249.4 73.3h0M251.9 73.1h0M241.5 72.9h0M234.9 72.8h0M254.0 71.7h0M247.9 70.1h0M234.1 70.9h0M249.9 73.8h0M233.5 72.7h0M238.7 73.0h0M263.0 71.6h0M253.0 87.4h0M243.6 87.0h0M237.9 85.6h0M238.0 84.7h0M245.6 86.1h0M237.5 85.3h0M249.4 84.2h0M253.7 85.4h0M246.0 86.3h0M246.5 87.7h0M248.1 85.2h0M245.2 87.7h0M239.3 85.0h0M245.7 88.0h0M252.6 87.4h0M230.3 84.4h0M244.8 87.7h0M248.8 84.1h0M238.0 85.5h0M252.2 85.5h0M252.5 86.2h0M232.4 86.7h0M245.5 86.3h0M243.6 87.0h0M250.3 84.7h0M242.6 86.5h0M243.5 87.6h0M234.3 85.8h0M246.6 87.6h0M252.6 85.4h0M223.5 86.6h0M252.9 86.2h0M249.0 85.8h0M235.5 86.5h0M246.6 86.6h0M216.5 87.2h0M232.6 85.9h0M229.9 87.6h0M242.8 85.6h0M245.2 85.4h0M228.5 88.2h0M253.3 85.8h0M249.6 86.6h0M248.1 84.5h0M248.7 87.8h0M246.8 85.6h0M246.4 86.5h0M240.0 85.5h0M246.1 87.4h0M241.7 84.8h0M241.6 87.3h0M251.2 86.9h0M241.2 87.3h0M242.4 84.6h0M239.3 87.1h0M242.6 87.4h0M254.4 86.5h0M240.7 100.6h0M250.3 100.9h0M242.1 99.8h0M249.8 100.8h0M246.3 101.0h0M249.6 100.3h0M245.5 101.0h0M252.0 100.6h0M232.3 101.4h0M249.0 101.0h0M232.4 100.2h0M248.2 100.4h0M251.7 100.6h0M242.2 100.6h0M240.1 100.4h0M240.0 101.9h0M251.8 100.7h0M249.1 100.7h0M241.5 100.7h0M252.3 100.6h0M247.4 100.1h0M236.7 100.5h0M248.4 100.8h0M245.2 99.9h0M222.5 97.3h0M244.5 115.6h0M240.0 115.5h0M237.0 116.5h0M243.3 115.4h0M242.9 114.9h0M242.7 114.8h0M242.5 114.7h0M244.1 115.4h0M245.2 115.2h0M240.1 115.4h0M211.8 129.9h0M211.9 129.7h0M214.6 130.3h0M403.0 56.7h0M385.6 57.9h0M387.5 57.9h0M367.3 57.1h0M389.4 55.0h0M372.2 57.3h0M398.0 57.1h0M356.7 56.9h0M401.9 56.9h0M377.0 56.0h0M387.4 55.6h0M390.1 57.9h0M395.2 56.0h0M391.6 58.3h0M395.0 56.0h0M354.7 57.4h0M393.3 55.6h0M399.0 56.6h0M401.6 57.1h0M400.7 56.4h0M377.8 56.5h0M368.2 56.9h0M362.7 56.2h0M375.8 57.5h0M383.8 56.2h0M398.0 57.3h0M402.1 56.4h0M389.4 58.0h0M377.0 57.2h0M385.8 55.8h0M388.5 55.1h0M388.9 58.2h0M378.4 56.2h0M394.7 57.2h0M355.5 56.7h0M346.7 56.5h0M405.0 56.7h0M395.8 56.8h0M380.3 57.4h0M309.2 71.2h0M324.3 70.1h0M342.6 70.4h0M322.0 71.5h0M326.7 74.0h0M314.5 70.9h0M319.9 70.5h0M335.2 70.7h0M318.8 71.9h0M332.0 72.0h0M310.6 71.2h0M312.6 71.1h0M316.9 70.7h0M320.6 70.6h0M309.2 71.4h0M335.9 72.0h0M333.5 70.3h0M329.6 73.2h0M318.6 71.7h0M326.9 68.1h0M315.2 71.3h0M336.8 71.6h0M321.0 71.3h0M319.3 71.6h0M326.3 70.3h0M318.0 71.4h0M310.7 71.1h0M316.9 71.0h0M332.5 73.5h0M332.4 71.8h0M313.0 70.9h0M326.3 74.2h0M316.0 71.6h0M326.5 68.5h0M314.9 71.3h0M320.6 70.4h0M330.7 69.9h0M315.3 71.3h0M311.8 71.4h0M329.9 68.1h0M326.9 75.3h0M314.8 71.5h0M321.7 71.4h0M327.0 71.3h0M325.1 73.7h0M327.8 70.4h0M335.9 85.3h0M329.6 88.3h0M331.6 82.1h0M334.8 84.2h0M340.1 86.0h0M339.4 85.2h0M318.7 86.3h0M327.9 88.2h0M334.1 83.4h0M334.3 87.0h0M323.9 85.5h0M333.5 85.6h0M329.9 89.0h0M330.9 88.4h0M322.5 85.4h0M323.5 86.6h0M326.5 86.8h0M318.5 86.5h0M319.0 86.1h0M321.1 85.6h0M325.8 85.4h0M322.4 87.0h0M327.7 88.6h0M319.1 86.4h0M335.9 84.9h0M327.8 87.4h0M330.6 89.1h0M322.8 86.0h0M321.0 86.4h0M330.3 82.7h0M330.6 82.6h0M329.1 82.9h0M319.6 86.5h0M321.4 86.9h0M324.4 85.7h0M318.8 86.2h0M337.7 87.1h0M318.9 100.5h0M319.5 100.4h0M318.6 101.1h0M320.3 100.8h0M323.3 100.3h0M314.6 101.0h0M324.5 101.1h0M319.5 100.6h0M321.0 100.4h0M327.1 100.2h0M329.2 103.9h0M327.1 100.4h0M326.4 101.3h0M314.9 100.7h0M321.3 100.6h0M320.6 101.1h0M325.9 101.8h0M320.6 101.1h0M327.3 101.9h0M320.9 100.7h0M328.2 98.5h0M322.6 100.7h0M320.7 100.9h0M324.8 101.3h0M334.7 100.1h0M316.9 100.6h0M317.6 100.8h0M326.7 101.4h0M325.4 101.3h0M319.2 100.7h0M323.5 101.1h0M314.6 100.7h0M331.7 98.4h0M325.6 100.0h0M332.9 104.3h0M315.8 100.9h0M324.5 101.0h0M320.9 100.5h0M331.8 116.0h0M320.4 115.6h0M329.8 113.9h0M319.3 115.7h0M318.6 115.4h0M317.4 115.2h0M326.7 114.6h0M328.2 114.7h0M322.1 115.4h0M319.5 115.5h0M319.9 115.5h0M328.6 116.3h0M328.8 115.5h0M319.9 115.1h0M326.8 115.9h0M328.5 114.8h0M321.4 115.0h0M330.1 114.6h0M325.0 114.9h0M323.0 114.9h0M334.4 114.4h0M324.0 115.7h0M317.1 115.2h0M324.1 115.3h0M322.5 115.1h0M356.8 129.9h0M330.0 130.3h0M343.6 130.0h0M434.7 54.7h0M433.7 55.7h0M435.6 55.4h0M430.8 55.5h0M430.1 57.4h0M435.3 54.2h0M425.7 57.3h0M435.7 56.6h0M511.8 55.7h0M432.5 56.3h0M426.8 55.6h0M434.4 57.8h0M433.8 55.3h0M435.0 57.0h0M423.1 56.1h0M429.2 56.9h0M424.6 57.0h0M430.7 54.9h0M425.6 56.4h0M436.4 58.4h0M429.6 57.7h0M426.0 57.4h0M429.6 57.8h0M428.2 56.1h0M429.8 57.9h0M484.6 56.2h0M436.6 55.2h0M434.9 58.7h0M425.3 55.9h0M433.3 56.4h0M424.3 56.1h0M439.3 57.7h0M423.4 56.5h0M440.3 58.2h0M423.3 56.9h0M428.3 56.3h0M434.4 55.9h0M430.5 56.4h0M436.0 55.5h0M423.0 56.9h0M429.3 57.5h0M432.6 57.8h0M428.3 56.4h0M434.3 55.7h0M435.2 57.2h0M424.5 56.9h0M439.9 54.7h0M436.0 55.9h0M426.3 55.7h0M437.4 57.8h0M425.9 56.4h0M423.0 56.8h0M419.1 56.5h0M445.2 72.3h0M480.7 70.4h0M469.2 72.4h0M443.7 73.0h0M438.8 72.0h0M493.5 71.2h0M483.3 74.5h0M465.3 72.2h0M502.0 71.7h0M449.5 68.2h0M465.9 71.9h0M501.2 71.8h0M498.8 72.3h0M498.2 71.9h0M487.7 70.6h0M443.3 72.0h0M481.1 71.5h0M495.5 72.4h0M440.7 72.1h0M438.9 72.0h0M489.6 70.8h0M498.7 71.5h0M439.2 71.9h0M494.7 71.3h0M445.5 73.8h0M486.3 71.4h0M461.6 72.0h0M464.4 71.0h0M490.8 71.8h0M500.1 72.1h0M496.8 72.4h0M501.6 71.8h0M468.4 71.9h0M484.2 70.3h0M488.1 71.9h0M455.9 67.7h0M495.3 71.9h0M495.0 71.7h0M501.2 71.8h0M461.2 71.6h0M461.5 71.3h0M475.1 72.7h0M438.6 72.2h0M477.9 71.4h0M498.1 71.6h0M488.7 71.6h0M467.3 71.4h0M468.1 72.4h0M472.3 72.1h0M439.0 72.1h0M495.4 72.4h0M444.7 71.2h0M456.6 75.6h0M464.7 87.1h0M442.9 86.4h0M475.3 87.6h0M476.3 85.5h0M477.0 88.6h0M479.1 84.0h0M470.1 86.8h0M481.8 88.4h0M478.4 84.0h0M473.6 85.9h0M480.1 88.2h0M466.8 86.7h0M463.9 85.4h0M465.5 85.4h0M476.5 85.3h0M482.7 86.3h0M486.9 86.7h0M467.0 85.6h0M476.8 83.8h0M463.6 87.2h0M477.5 86.9h0M471.6 86.7h0M482.0 86.3h0M443.3 86.7h0M449.0 100.2h0M463.4 101.4h0M472.4 100.0h0M450.9 102.3h0M463.7 101.3h0M447.4 114.9h0M484.1 115.0h0M474.4 113.4h0M483.5 116.3h0M486.3 115.0h0M465.4 129.1h0M458.0 133.2h0M462.0 127.7h0M466.8 132.5h0M464.6 131.2h0M472.5 130.3h0M462.2 131.9h0M472.4 130.3h0M465.8 128.5h0" stroke="#127af6" stroke-width="1.05" stroke-linecap="round" fill="none"/>
<path d="M193.3 54.7h0M192.4 57.9h0M188.5 56.9h0M192.2 58.2h0M214.5 56.8h0M186.2 56.9h0M186.6 57.2h0M201.9 57.6h0M193.4 58.3h0M195.3 56.2h0M225.9 56.7h0M202.9 57.5h0M225.3 72.2h0M245.1 69.9h0M237.7 71.5h0M233.8 71.2h0M255.8 73.2h0M252.6 69.7h0M254.0 70.5h0M243.8 73.0h0M257.4 71.7h0M227.9 71.8h0M222.1 71.2h0M221.5 71.5h0M239.6 72.5h0M249.8 69.6h0M221.6 72.0h0M236.6 72.1h0M231.1 70.2h0M249.7 87.9h0M242.0 87.7h0M226.2 85.5h0M244.7 85.6h0M232.4 85.1h0M234.4 86.2h0M245.0 86.5h0M240.8 85.9h0M240.3 84.8h0M239.1 85.3h0M248.0 87.2h0M243.2 85.6h0M230.9 87.8h0M229.8 85.9h0M231.7 86.2h0M221.0 87.4h0M241.2 87.0h0M228.6 88.2h0M240.3 85.6h0M230.7 88.1h0M225.5 86.8h0M237.3 85.7h0M246.2 84.6h0M232.2 85.6h0M237.2 85.8h0M247.2 86.7h0M248.0 101.0h0M220.0 97.6h0M240.1 100.0h0M235.4 101.6h0M229.5 104.6h0M237.8 101.9h0M234.8 100.3h0M248.3 100.9h0M227.2 101.6h0M238.2 100.2h0M245.2 100.3h0M235.4 99.5h0M227.5 101.2h0M233.0 101.0h0M244.4 100.8h0M242.2 100.2h0M238.1 115.1h0M235.9 115.1h0M240.2 114.6h0M242.6 115.5h0M237.7 115.4h0M228.7 113.6h0M243.3 115.3h0M244.3 115.5h0M229.2 115.0h0M233.0 116.1h0M243.4 115.8h0M230.9 114.8h0M242.0 115.4h0M235.6 114.1h0M218.3 129.5h0M216.1 130.5h0M226.8 130.6h0M229.5 131.2h0M225.4 130.2h0M393.6 56.8h0M352.0 56.9h0M396.7 56.3h0M359.3 57.2h0M349.2 56.1h0M402.6 56.7h0M375.8 55.9h0M388.2 58.8h0M320.2 56.3h0M362.9 57.0h0M398.0 56.4h0M370.1 56.2h0M397.2 56.6h0M377.4 55.9h0M375.4 57.2h0M365.8 56.0h0M384.7 58.1h0M354.7 57.4h0M330.8 72.9h0M314.4 71.0h0M329.5 71.3h0M340.2 71.3h0M320.7 71.5h0M309.1 71.4h0M335.6 73.2h0M314.5 71.6h0M331.3 73.7h0M315.2 71.7h0M346.0 70.3h0M332.3 73.3h0M319.2 70.7h0M311.8 71.0h0M330.8 68.9h0M342.2 70.3h0M323.4 70.9h0M335.0 72.1h0M332.0 73.3h0M322.7 71.1h0M331.4 86.1h0M336.6 87.3h0M320.5 86.0h0M334.4 88.1h0M329.5 88.3h0M332.0 88.4h0M335.4 87.3h0M327.0 86.6h0M327.8 83.7h0M322.8 86.9h0M333.0 85.9h0M334.5 84.1h0M330.2 86.7h0M336.5 84.9h0M324.1 86.1h0M326.2 99.8h0M329.1 101.8h0M328.1 102.5h0M318.3 101.1h0M322.5 101.1h0M320.0 100.9h0M331.8 101.6h0M319.1 100.4h0M360.2 100.9h0M319.6 101.0h0M322.9 101.3h0M315.8 100.9h0M324.2 100.3h0M331.1 99.5h0M320.4 101.1h0M321.3 101.2h0M316.2 100.7h0M322.2 115.7h0M330.3 115.2h0M329.0 115.4h0M323.5 115.4h0M332.4 117.2h0M354.8 115.8h0M329.7 116.4h0M320.9 115.7h0M334.1 117.5h0M320.3 115.4h0M332.1 114.3h0M354.1 130.6h0M332.4 129.5h0M333.3 130.0h0M479.7 58.4h0M439.2 55.0h0M429.6 57.3h0M503.3 58.1h0M429.5 56.2h0M427.3 56.0h0M432.7 55.5h0M479.7 55.5h0M430.8 56.4h0M433.2 55.0h0M509.5 55.3h0M426.7 57.4h0M428.1 57.5h0M459.3 58.4h0M426.0 56.6h0M441.7 52.9h0M498.1 71.7h0M438.0 71.9h0M463.9 71.1h0M487.8 70.5h0M494.1 71.3h0M450.6 74.5h0M497.0 72.0h0M452.6 69.3h0M464.0 71.9h0M444.7 73.2h0M494.1 71.2h0M499.5 72.3h0M446.0 72.3h0M485.9 73.4h0M465.9 71.8h0M486.7 73.4h0M440.3 72.4h0M472.5 72.8h0M481.6 74.4h0M498.0 71.8h0M497.6 71.7h0M456.8 72.5h0M464.9 72.1h0M447.0 69.4h0M495.7 72.2h0M465.0 72.4h0M497.4 71.4h0M470.0 71.9h0M488.6 72.1h0M476.2 69.5h0M486.2 72.5h0M469.1 71.3h0M454.8 69.7h0M443.0 72.1h0M444.3 72.8h0M485.4 73.1h0M467.7 71.1h0M443.9 70.1h0M495.6 71.3h0M448.0 85.2h0M479.8 85.1h0M482.2 85.7h0M453.8 88.6h0M478.3 84.5h0M474.0 86.3h0M480.4 85.6h0M448.8 82.9h0M476.9 87.8h0M476.4 84.3h0M470.7 86.5h0M481.6 86.2h0M473.7 87.2h0M482.7 87.3h0M485.7 87.6h0M445.2 101.4h0M466.2 101.1h0M469.4 101.7h0M467.2 100.2h0M444.1 101.1h0M456.1 105.5h0M446.7 99.7h0M481.3 100.1h0M472.8 100.3h0M466.3 100.7h0M453.8 100.8h0M472.3 98.8h0M457.8 101.0h0M476.3 102.4h0M447.6 102.5h0M472.1 101.3h0M485.3 114.7h0M466.6 114.2h0M484.4 115.2h0M484.4 116.0h0M467.7 114.3h0M481.9 116.3h0M460.2 129.3h0M459.6 132.0h0M465.4 130.7h0M456.1 132.0h0" stroke="#346cf6" stroke-width="1.05" stroke-linecap="round" fill="none"/>
<path d="M204.1 56.4h0M192.5 55.0h0M273.0 57.8h0M285.0 57.2h0M245.6 57.9h0M203.7 56.9h0M208.6 58.0h0M199.7 56.4h0M237.4 57.1h0M201.2 56.3h0M200.5 56.5h0M238.2 56.4h0M215.3 56.1h0M192.5 56.0h0M217.5 56.0h0M237.6 56.4h0M205.1 58.0h0M203.4 55.8h0M189.7 55.9h0M206.3 57.6h0M196.0 57.0h0M229.3 57.6h0M224.9 71.9h0M230.5 70.2h0M210.7 75.5h0M235.3 72.1h0M247.6 72.5h0M245.2 73.3h0M245.3 70.9h0M258.9 71.6h0M225.9 72.6h0M213.2 71.3h0M242.6 72.8h0M255.4 71.3h0M247.1 72.4h0M247.6 72.5h0M240.9 73.0h0M257.5 71.6h0M224.3 73.4h0M227.9 70.9h0M239.7 70.9h0M255.2 72.7h0M240.4 72.8h0M211.0 73.1h0M219.8 73.6h0M218.5 71.2h0M236.3 72.8h0M255.6 70.0h0M226.7 70.4h0M236.4 87.7h0M229.4 86.3h0M233.5 87.3h0M223.3 89.0h0M244.6 87.8h0M234.6 86.1h0M248.1 85.9h0M243.7 87.5h0M229.6 86.3h0M230.3 87.5h0M229.4 84.5h0M228.6 86.4h0M205.5 86.7h0M230.5 85.7h0M229.4 86.4h0M232.0 102.8h0M224.7 100.8h0M235.3 99.9h0M240.2 99.8h0M238.0 101.9h0M212.0 100.9h0M216.4 99.1h0M230.6 99.7h0M240.0 100.5h0M214.0 99.5h0M243.8 101.4h0M234.7 100.3h0M223.6 102.6h0M243.0 101.6h0M241.7 115.8h0M245.6 115.5h0M227.0 114.2h0M237.6 116.5h0M232.8 114.0h0M229.5 118.0h0M241.3 114.7h0M234.0 114.0h0M238.8 116.3h0M229.8 115.2h0M232.0 116.6h0M244.0 115.3h0M208.5 115.5h0M228.6 112.3h0M234.1 130.4h0M232.6 130.5h0M229.3 131.5h0M218.3 129.3h0M211.2 130.3h0M223.6 130.8h0M215.9 129.7h0M210.4 130.3h0M217.9 129.8h0M213.1 129.6h0M224.3 131.6h0M380.0 56.0h0M402.2 56.9h0M381.2 55.7h0M355.6 56.6h0M335.9 57.2h0M381.8 57.5h0M401.5 56.4h0M327.7 56.2h0M401.3 56.8h0M380.8 56.2h0M398.5 56.8h0M391.1 55.6h0M399.4 57.0h0M389.4 58.0h0M384.5 57.9h0M397.7 56.8h0M325.9 55.9h0M397.5 57.4h0M403.1 57.0h0M381.1 56.0h0M390.0 56.0h0M393.4 57.3h0M371.8 57.0h0M382.6 57.6h0M359.7 56.1h0M345.7 56.9h0M319.4 71.1h0M340.6 72.8h0M336.6 70.7h0M347.4 71.7h0M334.2 71.8h0M344.1 70.8h0M318.4 70.9h0M352.8 72.1h0M353.4 70.5h0M309.7 71.2h0M334.2 70.6h0M328.8 69.8h0M339.8 70.0h0M340.5 70.0h0M346.7 72.3h0M340.4 70.8h0M333.7 89.4h0M332.0 90.0h0M328.5 83.2h0M341.0 87.1h0M341.7 85.4h0M329.1 84.3h0M317.8 86.3h0M336.6 86.1h0M319.0 86.4h0M327.8 99.5h0M319.7 100.8h0M332.5 97.6h0M330.6 98.9h0M349.6 101.2h0M331.9 101.5h0M318.5 100.6h0M315.6 100.7h0M350.4 100.3h0M323.4 101.4h0M326.7 101.7h0M328.2 101.8h0M327.8 100.9h0M315.2 101.0h0M327.1 100.9h0M321.6 115.7h0M331.1 116.1h0M324.7 115.1h0M339.1 114.1h0M329.8 116.1h0M324.5 114.9h0M330.0 114.8h0M350.1 116.1h0M318.6 115.5h0M331.8 113.9h0M354.0 114.8h0M337.6 131.3h0M335.0 130.8h0M338.6 130.6h0M353.8 130.1h0M341.9 130.7h0M356.8 130.1h0M357.5 130.1h0M335.2 130.7h0M452.7 58.9h0M429.7 55.2h0M469.8 58.1h0M424.0 56.9h0M439.1 56.1h0M500.7 54.4h0M438.4 58.7h0M429.6 56.1h0M438.0 55.7h0M480.1 54.9h0M511.8 57.1h0M508.9 57.0h0M503.8 57.9h0M440.3 54.3h0M502.4 57.4h0M431.2 56.0h0M441.9 52.8h0M512.2 56.7h0M440.2 54.3h0M438.9 55.4h0M468.2 58.1h0M422.8 56.5h0M479.7 57.3h0M453.4 56.8h0M520.4 56.6h0M440.1 59.9h0M506.3 55.0h0M433.3 58.0h0M513.2 55.8h0M431.5 57.0h0M479.5 56.3h0M513.7 55.9h0M498.0 54.5h0M451.2 54.7h0M501.2 55.6h0M511.0 56.2h0M464.8 72.2h0M489.8 71.0h0M445.1 72.9h0M490.0 72.4h0M492.8 71.1h0M471.7 72.1h0M500.8 71.8h0M459.5 74.9h0M458.1 73.1h0M485.7 72.4h0M447.0 74.9h0M479.0 74.5h0M479.6 69.0h0M477.7 71.2h0M452.1 76.4h0M500.9 71.9h0M491.2 72.4h0M485.1 73.1h0M462.4 71.5h0M487.4 71.4h0M481.4 71.1h0M486.9 73.5h0M491.9 72.0h0M446.4 74.3h0M494.2 72.5h0M480.0 71.9h0M463.5 72.6h0M452.2 69.4h0M470.9 72.5h0M469.6 71.7h0M454.2 71.9h0M497.5 71.7h0M456.2 74.7h0M478.9 87.4h0M478.7 87.6h0M474.4 84.5h0M467.2 85.5h0M454.7 84.6h0M489.0 85.3h0M447.3 88.1h0M487.3 87.5h0M471.5 86.4h0M446.8 86.7h0M453.7 81.6h0M463.3 86.0h0M463.7 86.5h0M447.5 87.0h0M472.5 86.5h0M486.0 86.4h0M447.8 83.2h0M460.6 86.2h0M465.2 86.1h0M473.0 84.9h0M444.9 86.8h0M494.7 86.2h0M450.0 86.1h0M463.2 85.1h0M465.5 86.9h0M462.6 85.0h0M483.1 86.0h0M476.5 84.9h0M478.9 87.6h0M445.2 101.7h0M449.8 98.4h0M460.4 98.3h0M440.9 100.6h0M461.7 103.4h0M472.8 100.5h0M472.4 100.7h0M469.8 102.5h0M473.9 100.7h0M464.6 100.6h0M449.6 98.4h0M446.9 101.4h0M449.5 99.1h0M452.6 118.0h0M474.7 113.3h0M471.9 116.7h0M487.5 115.5h0M461.0 112.7h0M457.0 116.9h0M472.5 115.6h0M479.5 116.9h0M474.0 116.9h0M482.1 115.5h0M471.4 113.6h0M475.0 116.1h0M460.6 120.0h0M479.9 114.9h0M468.8 132.3h0M464.5 129.0h0M462.8 126.7h0M461.0 125.9h0M466.7 131.4h0M457.2 128.2h0M464.0 132.5h0M456.7 130.5h0M464.2 129.5h0M462.4 127.1h0M459.3 131.0h0M460.3 134.5h0M466.0 130.0h0M461.8 126.0h0M461.0 135.4h0M471.2 131.3h0M462.7 128.3h0M467.5 130.5h0" stroke="#555ff5" stroke-width="1.05" stroke-linecap="round" fill="none"/>
<path d="M192.1 57.0h0M194.4 56.7h0M210.0 57.0h0M207.5 56.3h0M208.6 56.4h0M285.1 56.9h0M199.5 54.7h0M219.4 57.0h0M248.6 57.0h0M282.1 56.7h0M206.1 56.6h0M213.5 56.2h0M269.6 56.7h0M245.7 57.9h0M200.6 57.1h0M208.7 57.6h0M225.5 56.5h0M248.0 56.5h0M211.4 56.5h0M197.3 56.9h0M208.4 56.8h0M229.2 70.8h0M241.1 72.9h0M238.4 71.2h0M239.5 70.2h0M211.1 72.4h0M259.0 71.1h0M234.3 71.0h0M202.7 72.2h0M246.3 73.5h0M229.4 72.5h0M222.3 73.4h0M223.6 72.8h0M207.5 72.3h0M237.5 71.3h0M247.3 71.1h0M211.8 72.9h0M224.9 72.4h0M249.9 73.1h0M225.4 72.1h0M227.8 70.4h0M202.0 71.7h0M199.5 71.5h0M224.4 70.0h0M221.3 72.3h0M222.7 72.9h0M259.8 72.0h0M201.2 72.0h0M233.3 72.5h0M227.7 70.6h0M209.9 86.0h0M239.9 86.4h0M234.6 86.8h0M228.4 86.2h0M205.4 86.2h0M235.6 85.8h0M253.2 86.8h0M223.0 86.6h0M233.0 85.0h0M221.3 86.9h0M249.3 87.1h0M224.1 87.7h0M226.1 85.7h0M219.0 89.5h0M227.9 87.5h0M221.0 87.8h0M226.2 84.5h0M221.8 84.4h0M224.1 87.1h0M253.2 86.5h0M215.0 84.3h0M244.0 101.7h0M230.7 98.2h0M241.5 99.8h0M249.0 100.6h0M230.7 103.2h0M230.4 99.1h0M206.6 100.1h0M232.5 100.2h0M239.2 101.1h0M213.2 100.4h0M236.9 101.8h0M225.1 97.3h0M248.0 100.6h0M219.5 99.4h0M241.6 100.8h0M232.8 114.9h0M220.4 112.5h0M239.2 115.2h0M224.5 118.7h0M240.3 116.0h0M226.9 114.5h0M223.7 119.4h0M242.1 115.1h0M221.2 112.0h0M224.9 118.3h0M232.8 114.2h0M236.8 116.4h0M238.9 114.7h0M213.3 129.7h0M232.6 129.4h0M233.2 129.7h0M215.6 130.5h0M225.1 131.6h0M230.0 130.2h0M213.3 129.7h0M219.9 130.2h0M222.7 128.1h0M228.9 130.7h0M215.8 130.3h0M211.3 129.7h0M369.0 56.2h0M364.5 57.5h0M334.4 56.9h0M333.4 55.9h0M370.4 57.3h0M390.4 55.2h0M378.3 56.8h0M326.2 56.7h0M387.9 55.4h0M335.2 56.5h0M326.2 56.0h0M394.7 56.1h0M386.6 57.1h0M352.7 56.2h0M311.8 57.1h0M375.8 56.8h0M387.8 55.3h0M350.7 57.4h0M404.0 56.5h0M325.5 57.5h0M328.8 56.3h0M320.7 70.5h0M332.6 73.3h0M312.7 71.3h0M333.9 72.1h0M319.2 71.9h0M347.2 71.2h0M361.8 71.8h0M325.1 73.1h0M357.6 70.8h0M373.8 71.4h0M336.5 70.2h0M314.2 71.1h0M312.6 71.3h0M347.0 71.8h0M333.7 72.1h0M360.0 71.3h0M355.2 71.9h0M350.0 86.5h0M337.0 84.3h0M338.2 85.0h0M319.2 86.0h0M340.2 87.2h0M352.2 86.8h0M354.7 85.7h0M336.6 87.4h0M351.3 86.3h0M331.9 82.6h0M340.3 87.4h0M318.7 86.1h0M338.1 98.9h0M337.4 99.7h0M360.6 101.1h0M318.1 100.8h0M337.3 103.6h0M332.1 98.1h0M321.4 101.2h0M318.0 101.0h0M343.3 102.5h0M340.5 99.8h0M314.6 100.8h0M330.8 101.0h0M324.3 101.1h0M335.9 104.5h0M333.1 117.5h0M345.4 113.9h0M317.8 115.3h0M345.7 113.7h0M360.9 115.2h0M326.7 114.7h0M363.5 115.0h0M347.7 116.0h0M337.3 115.8h0M336.3 116.3h0M332.5 114.8h0M353.1 115.1h0M332.7 116.1h0M355.3 116.0h0M320.8 115.7h0M333.4 113.7h0M341.3 115.1h0M354.4 115.4h0M332.9 114.5h0M355.5 115.3h0M336.3 115.7h0M329.9 116.7h0M342.4 129.3h0M343.8 129.7h0M332.7 130.1h0M340.6 129.1h0M336.9 130.1h0M352.3 129.7h0M332.8 130.2h0M337.3 129.5h0M422.5 56.4h0M498.1 55.5h0M495.2 56.9h0M444.6 57.1h0M484.4 57.0h0M474.1 57.9h0M429.7 56.0h0M515.9 56.4h0M517.2 57.1h0M497.4 54.8h0M444.0 58.4h0M510.4 56.4h0M482.5 58.1h0M438.4 54.9h0M440.5 54.9h0M457.5 59.1h0M457.3 55.1h0M477.0 58.1h0M486.1 58.0h0M468.1 54.7h0M504.8 56.7h0M457.6 57.5h0M454.5 53.4h0M428.0 57.6h0M467.3 56.7h0M512.1 55.9h0M442.9 53.3h0M508.7 56.8h0M442.2 53.9h0M505.4 56.0h0M497.8 57.1h0M461.3 57.9h0M496.8 57.6h0M472.4 56.7h0M457.1 54.2h0M487.7 56.5h0M428.4 55.7h0M495.9 58.1h0M438.8 58.6h0M478.1 56.6h0M493.6 57.0h0M492.9 55.5h0M442.5 54.3h0M478.9 57.2h0M431.1 55.1h0M490.6 57.2h0M480.6 56.5h0M439.4 59.2h0M497.8 54.7h0M479.8 71.0h0M445.5 74.2h0M476.7 70.7h0M439.0 71.7h0M449.5 72.5h0M500.0 71.7h0M464.8 71.8h0M495.6 71.7h0M442.0 71.2h0M441.8 72.1h0M475.3 71.8h0M485.8 71.6h0M476.1 74.2h0M497.7 72.1h0M471.5 71.2h0M443.8 73.8h0M452.4 68.9h0M442.6 70.6h0M477.6 69.3h0M485.2 73.4h0M461.0 73.1h0M481.1 73.0h0M476.2 72.2h0M441.9 72.9h0M462.4 71.9h0M492.5 72.2h0M466.6 72.1h0M485.5 73.2h0M460.1 71.5h0M443.8 71.5h0M441.3 72.2h0M484.1 74.2h0M492.3 71.7h0M460.6 74.2h0M464.0 87.1h0M451.4 85.5h0M492.6 86.6h0M476.7 84.3h0M461.7 87.1h0M466.2 85.6h0M475.6 86.9h0M464.8 85.3h0M465.9 85.4h0M446.0 87.4h0M458.7 82.9h0M483.7 85.6h0M466.3 86.4h0M490.1 85.7h0M469.7 85.6h0M444.2 86.3h0M475.0 85.7h0M493.6 86.6h0M459.3 86.4h0M462.2 85.8h0M485.5 85.9h0M444.5 85.1h0M472.3 85.5h0M462.5 86.4h0M490.4 85.6h0M450.3 84.9h0M485.2 85.3h0M453.6 84.1h0M478.6 84.2h0M464.1 86.8h0M476.4 86.9h0M491.9 86.6h0M456.4 85.4h0M481.5 86.4h0M462.8 87.0h0M469.9 86.2h0M460.1 85.8h0M483.4 85.1h0M475.8 85.8h0M468.0 85.6h0M463.6 86.7h0M488.2 85.9h0M474.7 99.4h0M461.4 99.0h0M446.4 102.0h0M474.2 102.6h0M469.1 102.1h0M448.4 98.2h0M452.7 104.7h0M469.5 101.6h0M447.2 100.5h0M451.4 97.7h0M453.4 103.2h0M479.4 101.4h0M467.3 101.3h0M461.2 104.0h0M461.9 99.9h0M460.8 97.8h0M457.9 102.5h0M485.6 115.7h0M485.1 114.7h0M454.1 114.4h0M463.9 115.6h0M471.8 113.0h0M469.4 115.4h0M484.9 115.7h0M454.3 118.0h0M449.1 114.5h0M453.5 112.8h0M455.0 118.6h0M467.3 115.9h0M473.1 131.8h0M466.3 131.5h0M457.6 132.6h0M459.2 127.7h0M458.1 130.2h0M469.3 132.0h0M473.4 131.8h0M459.2 133.7h0M470.6 131.0h0M471.3 132.6h0M456.3 130.2h0M455.2 129.4h0M472.3 132.4h0M466.6 132.7h0M481.3 130.4h0M455.1 131.3h0M463.6 128.7h0M466.4 130.4h0" stroke="#7646e8" stroke-width="1.05" stroke-linecap="round" fill="none"/>
<path d="M245.2 56.9h0M271.7 58.3h0M225.5 57.3h0M211.9 56.7h0M271.8 56.9h0M199.1 54.9h0M264.8 57.0h0M234.9 57.9h0M193.6 55.5h0M196.9 54.7h0M214.9 56.5h0M211.1 58.0h0M251.6 55.5h0M244.0 55.9h0M255.0 56.1h0M203.2 56.2h0M205.8 56.1h0M216.2 57.9h0M208.9 56.8h0M200.6 55.6h0M224.3 56.7h0M284.4 56.6h0M277.5 56.2h0M212.9 57.4h0M287.1 56.7h0M198.3 54.4h0M200.6 56.1h0M212.2 57.2h0M218.0 57.1h0M229.4 73.0h0M230.3 71.1h0M213.6 75.2h0M202.7 71.7h0M218.6 71.1h0M210.2 71.6h0M205.5 72.0h0M206.5 71.4h0M232.5 72.3h0M230.7 72.0h0M220.9 69.3h0M212.7 75.1h0M207.4 73.6h0M233.3 70.9h0M219.3 70.5h0M238.3 72.5h0M243.5 69.9h0M248.2 71.4h0M209.9 73.4h0M247.4 71.3h0M230.6 84.3h0M213.1 87.8h0M228.7 86.0h0M220.9 89.3h0M210.8 85.3h0M211.4 85.0h0M218.7 89.5h0M225.7 87.8h0M240.9 86.9h0M231.0 85.3h0M218.8 83.0h0M211.4 87.1h0M217.9 101.2h0M234.1 101.8h0M228.5 99.5h0M250.8 101.1h0M213.9 101.0h0M218.0 101.4h0M224.5 101.3h0M204.4 100.6h0M237.4 100.9h0M219.6 98.5h0M215.7 99.2h0M240.3 100.2h0M201.3 100.9h0M220.6 104.8h0M211.6 101.0h0M230.1 104.4h0M232.1 101.0h0M242.4 100.0h0M226.4 112.8h0M234.3 114.7h0M231.0 117.0h0M221.8 116.6h0M242.7 115.0h0M232.4 116.3h0M217.3 114.3h0M239.2 114.7h0M228.0 112.7h0M227.6 117.8h0M225.4 115.7h0M230.3 116.3h0M238.2 115.1h0M213.4 115.7h0M241.9 115.8h0M238.7 116.0h0M218.9 114.0h0M232.9 129.5h0M233.8 129.7h0M219.4 129.1h0M219.6 129.9h0M220.6 131.2h0M213.9 130.2h0M228.1 131.1h0M231.0 128.7h0M226.9 129.9h0M375.2 57.5h0M309.4 56.2h0M315.1 53.9h0M350.5 56.5h0M371.3 57.1h0M397.8 56.9h0M302.3 56.9h0M363.3 57.2h0M342.9 55.9h0M378.8 55.8h0M338.4 56.0h0M373.4 56.9h0M327.8 56.5h0M344.0 57.4h0M372.8 57.0h0M333.3 56.5h0M369.2 56.8h0M355.9 56.1h0M368.1 56.7h0M326.3 55.8h0M326.8 56.1h0M366.0 56.2h0M317.4 52.9h0M344.2 57.3h0M360.8 56.2h0M326.4 56.4h0M371.9 57.1h0M326.1 56.6h0M315.2 54.1h0M338.7 57.0h0M347.1 56.2h0M371.7 56.1h0M374.6 57.5h0M403.7 56.4h0M401.9 56.4h0M336.6 56.7h0M373.4 56.5h0M375.9 56.2h0M367.3 56.3h0M351.9 56.3h0M334.8 56.7h0M393.9 57.7h0M350.0 57.0h0M377.6 56.0h0M329.5 56.4h0M392.5 55.7h0M337.0 57.2h0M334.2 57.4h0M362.6 57.2h0M305.7 56.8h0M325.0 57.2h0M375.1 57.5h0M321.3 56.9h0M319.3 71.6h0M310.2 71.1h0M368.4 72.4h0M373.7 71.4h0M351.7 70.9h0M335.1 73.2h0M339.8 69.9h0M350.5 71.1h0M347.4 70.6h0M342.0 70.2h0M315.5 71.8h0M335.8 71.5h0M352.7 71.9h0M342.3 72.6h0M332.8 72.3h0M323.6 87.4h0M336.6 87.7h0M334.9 85.8h0M351.4 86.5h0M350.5 85.5h0M348.9 85.6h0M349.1 86.7h0M346.5 86.7h0M331.9 90.1h0M353.1 86.0h0M344.4 85.5h0M364.5 86.2h0M335.7 87.7h0M336.9 86.5h0M345.7 86.6h0M368.4 86.1h0M339.9 87.0h0M361.7 85.3h0M345.5 86.8h0M339.9 85.4h0M340.1 87.0h0M366.1 100.7h0M341.4 98.1h0M349.9 100.6h0M331.2 99.7h0M327.9 98.4h0M327.5 99.9h0M320.8 101.2h0M328.6 100.1h0M338.5 103.3h0M341.1 99.9h0M357.6 100.0h0M356.3 101.3h0M368.4 100.7h0M364.9 101.5h0M368.7 100.8h0M342.4 98.9h0M334.6 103.7h0M331.3 100.7h0M338.6 104.9h0M333.0 103.2h0M353.7 100.4h0M356.2 101.0h0M328.8 103.4h0M331.0 96.8h0M334.2 97.4h0M341.5 102.3h0M357.9 100.1h0M335.1 117.3h0M344.0 117.1h0M351.6 115.8h0M337.0 114.6h0M335.6 114.9h0M327.8 115.9h0M359.4 115.9h0M331.3 115.7h0M337.0 118.8h0M356.1 115.4h0M333.0 113.2h0M354.1 114.7h0M335.1 115.6h0M322.2 115.0h0M358.0 115.6h0M359.8 115.6h0M354.2 115.6h0M357.4 114.8h0M357.5 130.0h0M333.9 129.4h0M348.4 130.3h0M350.3 130.5h0M349.7 130.1h0M327.0 130.1h0M344.7 129.9h0M334.4 130.5h0M356.2 129.8h0M343.4 131.4h0M332.0 130.1h0M358.3 129.9h0M327.7 130.2h0M354.2 130.1h0M326.9 130.0h0M336.4 130.4h0M351.7 130.0h0M362.0 130.2h0M463.1 57.6h0M480.1 57.6h0M471.8 56.7h0M488.8 55.0h0M496.7 54.7h0M488.4 56.5h0M456.6 56.5h0M442.5 55.4h0M442.9 59.0h0M468.7 55.1h0M493.3 56.7h0M458.6 56.2h0M479.3 58.4h0M479.8 55.8h0M503.4 56.3h0M465.8 57.2h0M441.7 57.5h0M491.5 57.1h0M508.9 55.3h0M470.9 54.9h0M449.4 55.8h0M469.9 57.1h0M452.8 58.9h0M492.5 56.5h0M518.3 56.3h0M497.7 55.7h0M426.6 56.8h0M462.0 56.6h0M514.0 56.1h0M493.3 57.4h0M485.4 54.6h0M498.8 58.7h0M516.9 57.1h0M464.2 55.0h0M515.3 56.3h0M472.2 54.7h0M509.6 56.7h0M440.6 59.6h0M504.9 56.4h0M516.3 56.2h0M431.7 57.8h0M431.3 56.6h0M494.1 56.2h0M449.6 57.5h0M506.1 56.5h0M484.7 55.3h0M472.7 55.6h0M448.7 57.0h0M473.5 56.5h0M509.8 56.0h0M494.9 57.5h0M461.8 56.5h0M505.9 57.3h0M447.6 60.3h0M492.5 55.4h0M455.8 54.3h0M448.7 57.4h0M501.8 58.3h0M503.4 54.5h0M472.5 56.8h0M439.7 56.3h0M450.1 68.2h0M457.2 72.1h0M443.8 71.6h0M462.4 72.5h0M483.5 71.6h0M460.5 72.0h0M469.5 71.9h0M452.4 67.5h0M455.1 74.4h0M468.9 71.4h0M476.1 72.0h0M442.1 72.9h0M487.8 73.3h0M457.1 73.6h0M481.9 73.6h0M459.1 75.1h0M462.2 72.0h0M463.4 72.7h0M459.9 72.5h0M459.6 72.8h0M449.1 71.8h0M461.8 70.9h0M500.9 71.7h0M481.2 74.3h0M484.9 74.6h0M500.0 71.8h0M460.7 69.6h0M468.6 72.0h0M495.0 72.0h0M484.0 73.4h0M460.9 72.2h0M449.8 72.3h0M484.3 69.8h0M464.2 71.0h0M450.0 71.7h0M450.5 75.0h0M493.8 71.6h0M466.7 71.3h0M472.6 71.8h0M443.4 72.4h0M486.4 71.8h0M491.8 86.0h0M474.3 87.6h0M478.7 87.0h0M448.3 89.2h0M450.7 87.4h0M458.1 89.9h0M458.0 89.6h0M482.0 86.4h0M492.0 85.7h0M444.5 85.2h0M460.4 86.9h0M449.8 88.4h0M490.3 85.9h0M463.1 87.6h0M456.1 88.3h0M494.6 85.9h0M444.5 87.1h0M449.7 86.8h0M450.8 87.7h0M466.7 86.0h0M470.8 85.8h0M474.9 84.6h0M486.6 86.1h0M447.2 83.6h0M489.9 85.4h0M474.2 85.9h0M478.4 86.4h0M459.4 82.7h0M488.6 85.6h0M489.9 85.9h0M484.0 85.1h0M486.0 87.6h0M470.6 86.9h0M485.4 85.9h0M443.8 86.8h0M469.0 87.0h0M458.2 86.7h0M481.5 84.6h0M442.6 86.3h0M447.5 102.4h0M485.5 99.9h0M480.7 101.1h0M449.5 100.4h0M469.1 102.2h0M461.1 98.6h0M452.5 104.9h0M464.8 101.1h0M488.2 101.0h0M452.6 99.1h0M465.0 100.9h0M466.3 100.4h0M455.4 102.2h0M472.4 100.8h0M440.3 100.5h0M464.2 101.8h0M471.3 102.0h0M445.4 101.3h0M451.2 98.3h0M473.5 100.6h0M476.0 98.7h0M475.8 100.0h0M452.7 99.1h0M464.0 100.7h0M440.3 101.1h0M484.8 101.3h0M462.3 99.6h0M443.5 100.9h0M456.9 103.2h0M478.5 99.4h0M466.9 101.5h0M439.6 100.8h0M481.2 103.2h0M442.5 100.9h0M439.4 100.6h0M467.9 101.2h0M447.7 100.6h0M470.9 114.1h0M476.5 115.3h0M477.1 115.8h0M476.6 113.9h0M462.9 116.3h0M446.5 115.7h0M488.7 115.3h0M450.0 114.3h0M447.7 115.3h0M475.8 113.4h0M480.6 114.1h0M455.8 114.4h0M473.1 117.4h0M478.2 113.3h0M445.8 115.5h0M459.3 110.9h0M488.3 115.1h0M466.1 114.0h0M474.9 113.8h0M473.4 117.1h0M448.2 115.1h0M484.7 115.8h0M480.6 116.5h0M485.2 114.6h0M468.1 116.4h0M486.3 115.6h0M482.2 115.6h0M480.2 115.1h0M461.9 117.1h0M481.5 115.1h0M452.4 115.2h0M479.5 115.7h0M461.6 116.9h0M478.9 114.0h0M455.6 112.1h0M450.7 113.9h0M464.3 114.6h0M483.1 114.6h0M450.8 114.1h0M462.6 129.8h0M455.6 130.9h0M463.8 128.8h0M464.1 129.7h0M472.6 130.0h0M465.5 131.9h0M465.8 131.8h0M458.6 132.5h0M469.1 131.1h0M479.6 130.5h0M471.9 129.3h0M464.9 132.1h0M455.7 129.5h0M469.2 132.9h0M460.8 128.6h0M477.2 130.8h0M457.6 132.1h0M480.0 130.1h0M445.0 130.5h0" stroke="#962ddc" stroke-width="1.05" stroke-linecap="round" fill="none"/>
<path d="M219.2 56.3h0M240.8 56.7h0M201.7 57.0h0M238.7 57.2h0M275.2 57.6h0M196.5 55.7h0M286.0 57.2h0M230.4 57.7h0M239.5 56.0h0M259.7 55.0h0M211.7 56.0h0M256.2 59.1h0M202.2 56.9h0M206.7 57.0h0M238.8 56.9h0M224.1 56.8h0M287.9 57.1h0M280.5 56.5h0M242.9 56.8h0M262.5 56.6h0M209.9 57.9h0M225.7 56.5h0M226.5 57.9h0M223.2 56.4h0M228.2 70.3h0M205.1 72.8h0M212.6 72.2h0M224.0 70.5h0M219.6 73.0h0M200.5 71.5h0M232.3 70.7h0M216.4 69.3h0M223.7 71.2h0M240.0 72.3h0M231.3 70.6h0M222.9 69.5h0M225.3 70.4h0M213.3 68.6h0M200.4 71.7h0M211.8 71.2h0M225.0 71.8h0M201.7 71.3h0M217.5 71.0h0M208.1 67.9h0M208.1 85.8h0M216.0 83.7h0M214.2 82.2h0M211.4 86.2h0M228.3 84.1h0M212.3 88.2h0M222.0 86.9h0M202.8 86.2h0M203.5 86.3h0M217.2 83.3h0M230.5 84.8h0M217.5 90.1h0M225.6 87.3h0M232.1 86.2h0M207.8 85.9h0M205.8 85.5h0M207.8 87.1h0M218.1 82.4h0M235.4 85.2h0M225.0 86.3h0M224.1 84.6h0M229.5 86.0h0M218.2 89.7h0M210.0 86.4h0M212.9 87.6h0M219.5 86.0h0M221.5 83.8h0M221.5 97.8h0M243.1 101.3h0M228.7 101.9h0M237.2 99.5h0M213.2 101.2h0M216.5 102.6h0M228.6 99.9h0M229.9 97.7h0M239.1 99.9h0M245.4 100.9h0M216.4 102.0h0M203.9 100.2h0M207.0 100.6h0M222.8 104.7h0M224.0 99.7h0M228.8 99.1h0M230.6 98.0h0M215.6 101.7h0M226.3 104.5h0M204.9 100.1h0M229.4 103.8h0M221.2 97.0h0M212.6 100.1h0M217.5 97.6h0M235.5 102.1h0M238.4 100.5h0M207.1 101.3h0M224.7 117.9h0M223.2 114.2h0M206.4 115.5h0M232.8 115.6h0M236.4 116.1h0M207.6 115.6h0M228.9 114.5h0M231.2 113.4h0M217.2 114.4h0M212.2 116.3h0M228.4 116.8h0M224.7 115.4h0M243.5 115.0h0M231.7 116.8h0M205.6 115.4h0M223.7 118.2h0M232.2 129.0h0M219.4 129.2h0M228.9 129.2h0M212.1 130.0h0M230.1 131.3h0M214.2 129.7h0M231.3 129.9h0M222.1 129.1h0M215.9 130.3h0M220.7 131.1h0M367.6 57.0h0M347.3 56.0h0M326.7 57.7h0M339.9 56.4h0M347.6 57.0h0M312.9 58.8h0M373.1 57.5h0M349.4 57.0h0M317.0 59.9h0M324.4 55.5h0M328.6 56.6h0M359.9 57.0h0M331.9 56.3h0M369.3 56.7h0M369.8 56.8h0M343.9 56.6h0M340.1 57.4h0M329.4 57.1h0M366.3 57.0h0M329.2 57.3h0M370.4 56.8h0M362.0 56.1h0M365.4 57.4h0M310.9 56.3h0M320.0 58.4h0M337.0 56.3h0M303.2 56.9h0M357.6 56.4h0M307.0 57.3h0M356.0 57.2h0M356.0 71.7h0M347.6 70.6h0M345.1 71.7h0M331.7 71.5h0M369.7 71.6h0M360.3 70.9h0M355.0 70.7h0M340.8 70.6h0M356.6 71.6h0M353.3 70.5h0M367.3 70.0h0M364.8 71.1h0M345.1 71.1h0M339.6 71.3h0M370.9 71.6h0M365.3 71.8h0M363.6 71.7h0M356.4 71.4h0M336.5 70.5h0M352.7 71.2h0M365.5 71.6h0M343.6 70.7h0M358.2 86.9h0M364.0 85.8h0M343.7 86.2h0M350.9 85.5h0M368.1 86.2h0M355.0 85.7h0M343.7 86.2h0M349.6 85.5h0M339.9 86.7h0M334.8 84.3h0M323.6 86.8h0M338.8 84.9h0M367.0 86.1h0M341.8 102.8h0M338.0 99.8h0M348.6 101.1h0M364.9 101.3h0M365.7 101.2h0M336.7 104.5h0M336.8 103.7h0M343.9 99.8h0M339.3 101.2h0M354.1 101.7h0M349.0 100.9h0M333.0 103.4h0M335.9 101.2h0M360.0 101.5h0M350.6 101.7h0M331.9 99.1h0M366.2 101.0h0M334.9 104.4h0M358.5 101.0h0M362.4 100.0h0M341.0 96.8h0M357.7 100.9h0M339.2 118.5h0M363.4 115.6h0M344.6 113.8h0M336.7 111.5h0M348.1 115.5h0M340.3 117.7h0M346.2 114.1h0M332.5 117.2h0M337.5 119.1h0M359.5 115.3h0M349.5 115.9h0M332.1 114.9h0M349.9 115.1h0M343.6 116.9h0M333.2 117.6h0M322.7 115.2h0M343.7 129.7h0M358.7 130.4h0M350.9 130.4h0M345.6 131.2h0M347.0 130.7h0M356.6 130.4h0M328.0 130.1h0M484.6 55.6h0M505.6 57.8h0M454.3 53.3h0M496.5 54.8h0M465.2 55.0h0M444.1 57.9h0M454.2 55.9h0M511.3 56.4h0M442.4 59.1h0M507.8 57.8h0M446.1 53.3h0M478.2 56.9h0M498.4 56.7h0M445.0 59.1h0M492.1 57.9h0M515.3 56.4h0M452.7 53.7h0M477.5 58.4h0M479.1 58.3h0M450.2 59.8h0M447.6 53.4h0M519.7 56.2h0M510.2 56.4h0M496.5 56.0h0M493.1 53.7h0M433.1 57.7h0M511.0 56.6h0M482.2 57.0h0M447.5 56.6h0M474.9 55.4h0M511.8 56.6h0M455.0 54.3h0M511.5 56.5h0M454.5 57.5h0M470.3 57.9h0M491.8 57.2h0M491.0 54.3h0M486.6 57.0h0M497.1 58.6h0M509.3 55.3h0M447.7 54.0h0M473.1 55.0h0M427.3 57.3h0M460.6 56.1h0M499.3 57.4h0M485.0 54.5h0M500.4 59.0h0M476.5 55.9h0M489.2 55.7h0M488.5 56.0h0M508.7 57.8h0M495.0 54.4h0M473.8 54.6h0M455.6 58.4h0M490.7 59.0h0M455.4 56.6h0M444.3 56.3h0M476.5 55.8h0M442.0 52.8h0M497.6 54.4h0M484.7 56.7h0M468.4 54.9h0M446.8 60.6h0M466.7 55.1h0M510.2 55.5h0M452.8 56.0h0M510.3 55.9h0M447.2 56.3h0M497.0 56.7h0M473.7 57.9h0M509.4 56.5h0M476.4 54.7h0M480.7 54.8h0M513.8 56.8h0M473.2 57.5h0M476.3 56.2h0M485.6 73.3h0M449.2 70.6h0M455.9 69.1h0M472.7 73.3h0M501.6 71.8h0M482.5 72.2h0M457.8 74.5h0M485.0 72.3h0M486.3 71.8h0M491.7 72.2h0M452.2 68.1h0M483.9 73.0h0M474.4 72.8h0M455.3 70.0h0M475.6 71.7h0M469.0 72.4h0M482.3 72.7h0M446.6 71.4h0M457.9 73.6h0M465.7 72.1h0M465.0 71.3h0M467.3 72.7h0M478.1 74.6h0M485.4 71.2h0M457.9 70.0h0M455.1 72.2h0M460.7 73.3h0M483.1 73.8h0M477.9 74.2h0M448.5 73.0h0M454.3 67.7h0M447.3 88.1h0M468.7 87.0h0M471.2 86.4h0M458.7 86.4h0M472.2 85.1h0M446.3 84.2h0M457.1 89.6h0M481.9 86.2h0M488.9 86.4h0M472.2 87.2h0M485.1 86.3h0M466.7 85.8h0M465.6 86.9h0M483.5 86.1h0M485.6 86.0h0M495.4 86.1h0M493.0 86.3h0M486.4 86.5h0M466.7 86.7h0M455.1 87.2h0M472.5 85.4h0M457.5 82.7h0M487.5 86.5h0M463.4 86.8h0M452.4 88.3h0M491.1 86.0h0M449.1 89.6h0M479.6 83.9h0M492.0 86.8h0M472.2 86.3h0M494.0 86.2h0M493.6 86.5h0M465.0 87.0h0M451.9 83.8h0M439.6 101.2h0M442.8 100.5h0M459.8 103.8h0M466.4 100.3h0M474.6 101.2h0M464.7 101.9h0M447.9 102.8h0M449.5 104.1h0M458.4 99.9h0M483.5 100.1h0M452.2 104.3h0M469.9 101.0h0M486.1 102.0h0M475.0 100.1h0M460.2 103.3h0M476.5 100.2h0M478.4 103.4h0M451.8 104.3h0M468.3 100.7h0M449.2 101.7h0M441.0 100.9h0M488.3 101.3h0M460.0 100.3h0M472.0 101.9h0M439.2 100.7h0M439.3 101.2h0M454.1 101.7h0M489.3 101.1h0M485.4 101.7h0M452.7 99.6h0M464.0 101.4h0M450.5 99.7h0M449.8 100.8h0M450.6 102.8h0M455.8 96.7h0M457.8 98.7h0M461.7 100.3h0M488.4 101.3h0M467.0 100.1h0M478.9 102.8h0M449.7 99.5h0M442.1 100.6h0M448.8 101.2h0M488.3 100.8h0M452.9 101.0h0M463.0 114.7h0M444.1 115.1h0M451.5 115.2h0M464.6 116.2h0M482.4 115.7h0M474.4 117.0h0M485.6 115.4h0M476.4 117.1h0M452.4 113.7h0M483.7 116.1h0M463.6 116.6h0M488.3 115.0h0M474.2 112.7h0M451.0 116.3h0M455.5 119.5h0M444.4 115.6h0M480.7 116.1h0M452.0 113.1h0M445.3 115.0h0M454.0 112.2h0M475.7 115.5h0M480.8 114.2h0M489.5 115.2h0M454.6 112.3h0M463.8 114.8h0M455.7 112.9h0M465.4 116.3h0M444.0 115.0h0M452.8 131.0h0M461.4 133.4h0M455.1 131.3h0M457.1 128.9h0M473.2 131.9h0M457.6 130.0h0M451.9 130.0h0M473.2 130.7h0M481.8 130.6h0M452.9 131.2h0M453.3 131.0h0M471.4 132.1h0M463.7 131.2h0M480.4 130.4h0M464.2 132.1h0M478.9 130.2h0" stroke="#b51eb9" stroke-width="1.05" stroke-linecap="round" fill="none"/>
<path d="M251.2 56.6h0M255.5 56.7h0M228.8 57.5h0M275.3 56.6h0M221.1 56.5h0M274.1 57.5h0M210.7 57.2h0M211.5 56.5h0M279.1 56.9h0M232.2 57.1h0M276.1 57.9h0M213.7 56.2h0M237.1 56.4h0M226.2 57.0h0M234.5 57.0h0M262.6 57.8h0M286.4 56.7h0M249.9 57.6h0M235.0 57.4h0M259.5 55.1h0M216.5 57.5h0M285.6 56.7h0M278.5 57.8h0M221.0 56.2h0M237.4 57.3h0M226.1 57.8h0M252.1 58.0h0M247.4 55.7h0M229.0 56.6h0M220.6 56.8h0M207.9 58.0h0M262.2 54.8h0M218.7 56.7h0M219.4 57.9h0M243.9 56.7h0M217.5 57.9h0M282.2 57.6h0M266.2 55.7h0M227.4 57.6h0M211.6 69.9h0M226.3 70.4h0M206.9 70.2h0M207.0 74.0h0M212.7 68.6h0M205.3 72.7h0M198.7 71.5h0M203.7 72.2h0M208.3 68.9h0M205.0 72.7h0M229.3 73.1h0M236.7 72.4h0M199.0 71.8h0M206.7 69.3h0M201.7 72.0h0M202.4 72.3h0M222.2 72.5h0M198.7 71.5h0M225.0 71.9h0M223.8 71.7h0M214.5 67.3h0M236.0 71.3h0M216.0 85.2h0M215.0 83.6h0M204.5 86.6h0M216.1 84.2h0M212.0 87.8h0M206.7 85.5h0M212.1 83.8h0M222.9 85.7h0M225.3 88.6h0M209.1 85.1h0M218.8 83.9h0M210.7 85.5h0M225.6 86.8h0M212.4 84.2h0M207.8 85.4h0M215.3 85.4h0M221.3 84.0h0M212.6 84.8h0M222.3 89.6h0M221.5 86.2h0M204.6 86.0h0M220.8 82.8h0M205.4 86.4h0M231.2 87.1h0M208.6 85.6h0M211.2 100.1h0M207.9 101.0h0M217.9 103.2h0M242.5 101.2h0M221.9 105.0h0M221.7 97.9h0M216.2 100.5h0M213.9 100.7h0M202.4 101.0h0M203.8 101.2h0M211.6 100.0h0M227.8 102.7h0M206.9 101.2h0M234.6 100.1h0M225.1 104.1h0M234.9 100.5h0M223.7 98.0h0M218.9 99.6h0M212.7 100.8h0M227.8 100.0h0M198.1 101.0h0M202.1 100.5h0M230.4 100.5h0M244.9 100.2h0M216.3 102.7h0M198.8 101.1h0M220.0 101.2h0M218.3 98.7h0M226.0 118.5h0M218.9 115.5h0M213.5 114.4h0M237.7 114.7h0M207.5 115.2h0M216.4 116.4h0M209.0 115.0h0M217.4 113.7h0M210.7 115.5h0M232.1 114.1h0M240.6 115.4h0M225.1 117.8h0M206.6 115.3h0M239.5 116.0h0M215.6 116.4h0M214.8 114.6h0M225.3 118.8h0M237.4 115.8h0M241.4 115.7h0M232.9 115.6h0M211.2 115.5h0M239.3 130.1h0M214.2 130.0h0M229.1 130.9h0M225.9 128.9h0M234.8 130.1h0M213.3 129.8h0M238.2 130.2h0M237.0 130.5h0M230.3 131.5h0M210.9 130.2h0M239.6 129.7h0M239.2 130.2h0M238.4 130.4h0M312.8 57.3h0M326.8 57.5h0M310.1 55.1h0M368.8 57.4h0M377.5 57.2h0M331.7 57.4h0M303.5 56.5h0M303.1 56.5h0M341.6 56.5h0M311.7 54.8h0M325.8 56.6h0M314.3 53.1h0M369.3 56.7h0M325.4 56.9h0M347.3 56.1h0M326.1 56.7h0M325.4 57.6h0M370.2 57.3h0M366.3 56.7h0M371.3 57.2h0M309.3 55.2h0M367.9 57.0h0M370.3 56.3h0M311.3 54.6h0M355.7 56.5h0M309.3 56.4h0M330.8 55.8h0M365.8 56.4h0M364.5 57.4h0M341.0 56.1h0M335.8 55.9h0M309.4 55.4h0M370.6 56.2h0M314.9 60.5h0M346.3 56.0h0M384.6 55.9h0M350.3 56.0h0M349.3 70.9h0M337.6 73.2h0M369.1 71.1h0M337.2 70.1h0M357.8 71.9h0M347.9 72.2h0M346.5 71.2h0M366.5 71.6h0M371.4 71.9h0M372.4 71.6h0M372.1 71.2h0M324.8 73.8h0M347.3 71.9h0M338.4 71.3h0M368.4 71.8h0M337.0 69.9h0M352.7 71.3h0M352.3 70.7h0M351.8 87.0h0M336.9 84.4h0M345.6 86.0h0M340.1 87.7h0M349.0 86.3h0M366.6 86.4h0M345.7 85.5h0M342.3 86.5h0M359.8 86.3h0M343.6 85.5h0M356.8 86.4h0M337.7 85.5h0M351.8 85.8h0M364.7 85.6h0M354.9 100.1h0M355.0 101.2h0M357.4 100.8h0M365.2 100.6h0M351.7 101.7h0M367.6 100.5h0M346.0 97.4h0M356.0 101.0h0M342.4 99.8h0M363.1 100.4h0M334.1 97.3h0M368.2 100.7h0M346.6 101.1h0M357.1 100.7h0M348.5 100.1h0M359.0 100.7h0M350.1 100.5h0M356.5 100.5h0M355.4 101.2h0M342.8 118.0h0M362.5 114.9h0M336.4 118.8h0M358.7 115.2h0M337.1 114.2h0M358.5 115.9h0M363.9 115.4h0M351.7 114.6h0M337.7 118.1h0M362.3 115.1h0M337.7 119.0h0M353.8 115.9h0M334.9 113.8h0M333.9 116.4h0M338.7 115.6h0M342.7 112.1h0M357.3 114.8h0M358.1 115.9h0M342.4 112.6h0M355.0 115.0h0M355.3 115.6h0M350.9 115.3h0M343.4 115.0h0M328.1 130.2h0M332.4 130.8h0M334.9 129.4h0M349.1 129.9h0M344.7 131.0h0M345.7 130.0h0M349.6 129.5h0M349.0 129.5h0M333.9 130.1h0M330.2 130.5h0M350.3 130.6h0M353.4 130.4h0M500.6 54.4h0M473.2 55.5h0M498.9 59.0h0M520.9 56.5h0M494.6 57.2h0M442.5 58.3h0M452.1 56.8h0M471.1 54.6h0M447.8 55.5h0M447.9 54.2h0M442.0 59.4h0M501.0 54.8h0M480.7 56.6h0M505.3 58.5h0M468.7 56.6h0M471.0 57.6h0M485.7 57.0h0M510.7 55.8h0M510.3 56.1h0M448.2 60.2h0M519.7 56.2h0M504.4 57.4h0M518.5 56.3h0M498.5 56.6h0M486.8 54.4h0M478.9 58.2h0M504.9 56.9h0M438.4 57.7h0M449.0 60.5h0M471.8 58.3h0M484.4 57.3h0M499.5 55.3h0M475.0 55.6h0M451.2 57.1h0M473.9 57.7h0M517.0 56.5h0M443.8 58.3h0M489.4 58.4h0M487.0 56.7h0M490.5 54.3h0M502.1 56.4h0M498.2 56.9h0M496.3 53.9h0M505.0 55.4h0M448.0 59.5h0M501.2 58.5h0M446.0 56.3h0M481.4 57.7h0M471.9 54.6h0M499.8 57.5h0M458.9 57.5h0M458.7 54.0h0M490.1 55.5h0M500.3 55.3h0M501.9 54.4h0M455.3 55.9h0M462.8 71.0h0M480.4 73.5h0M452.1 71.2h0M489.9 72.6h0M450.3 71.7h0M459.5 74.5h0M450.2 73.1h0M489.4 71.5h0M471.7 71.4h0M458.5 74.9h0M471.5 72.6h0M463.1 72.3h0M482.0 72.0h0M486.0 72.5h0M472.0 71.6h0M479.0 71.1h0M480.9 69.7h0M441.1 72.1h0M482.2 69.8h0M481.5 74.7h0M487.5 70.5h0M452.0 67.6h0M447.7 71.1h0M494.1 71.6h0M484.8 86.1h0M483.8 87.1h0M451.3 85.9h0M495.2 86.0h0M480.1 85.8h0M454.8 88.0h0M488.8 85.3h0M489.2 85.9h0M494.0 85.9h0M460.7 86.8h0M456.4 88.4h0M480.6 84.2h0M493.9 86.0h0M493.4 86.6h0M464.3 86.8h0M491.3 86.4h0M474.7 85.7h0M483.1 99.5h0M469.2 101.0h0M459.4 97.7h0M444.0 101.7h0M479.0 102.9h0M460.0 101.2h0M440.4 101.2h0M481.0 100.0h0M484.7 99.5h0M473.0 99.9h0M451.6 98.2h0M467.5 100.5h0M455.5 102.4h0M466.6 100.2h0M456.1 97.7h0M460.3 102.3h0M449.1 97.6h0M451.9 102.0h0M452.8 100.1h0M452.3 102.8h0M439.6 101.0h0M441.5 101.3h0M456.4 102.5h0M440.7 100.9h0M484.4 100.1h0M445.9 99.8h0M448.9 99.0h0M473.6 100.0h0M484.6 100.1h0M443.7 101.5h0M447.1 101.9h0M487.2 101.7h0M445.3 99.6h0M447.8 115.4h0M453.2 115.9h0M461.4 118.8h0M485.7 115.6h0M472.9 113.3h0M465.8 114.1h0M449.4 116.2h0M470.5 113.5h0M472.4 113.1h0M467.7 114.2h0M465.6 115.7h0M479.1 114.6h0M484.7 115.6h0M477.8 115.9h0M445.0 115.1h0M473.3 112.9h0M456.1 115.5h0M458.7 116.6h0M476.7 117.0h0M452.9 116.9h0M474.4 116.5h0M459.4 116.3h0M481.6 114.7h0M453.3 113.4h0M460.5 113.8h0M448.4 115.7h0M479.0 114.7h0M469.6 116.3h0M456.9 119.0h0M487.1 115.0h0M444.6 115.2h0M474.7 130.6h0M479.3 130.5h0M455.0 129.7h0M456.2 131.9h0M458.0 131.0h0M478.0 131.1h0M478.6 131.1h0M453.9 129.9h0M471.9 132.1h0M456.5 130.0h0M451.5 130.8h0M473.2 132.1h0M477.5 129.7h0M466.3 131.1h0" stroke="#d41096" stroke-width="1.05" stroke-linecap="round" fill="none"/>
<path d="M229.4 57.6h0M244.9 56.8h0M273.6 56.5h0M204.6 57.2h0M222.7 57.7h0M233.6 57.0h0M240.0 56.3h0M212.8 56.7h0M243.2 58.0h0M229.2 57.7h0M244.3 57.4h0M242.5 57.9h0M227.4 56.7h0M277.0 57.2h0M237.5 57.7h0M255.7 57.8h0M236.0 56.0h0M253.3 55.3h0M260.4 55.7h0M232.0 56.6h0M269.7 57.0h0M214.2 56.1h0M260.8 56.8h0M224.6 56.7h0M274.0 56.3h0M226.9 56.9h0M283.3 57.5h0M277.4 57.0h0M254.1 58.7h0M205.9 56.7h0M262.3 58.9h0M279.5 57.2h0M282.2 56.4h0M211.4 56.1h0M276.1 58.0h0M262.3 58.7h0M271.8 56.4h0M237.8 56.5h0M280.9 56.8h0M274.4 56.9h0M246.9 57.3h0M255.3 55.7h0M224.0 57.0h0M239.3 57.9h0M280.5 56.8h0M238.9 56.8h0M201.2 71.7h0M202.7 71.4h0M208.7 75.4h0M200.7 71.2h0M205.3 71.2h0M221.3 73.2h0M204.9 70.7h0M199.9 71.4h0M220.4 70.7h0M209.2 71.0h0M210.9 72.7h0M218.2 72.5h0M208.7 74.1h0M212.6 73.4h0M198.8 71.7h0M217.5 71.5h0M238.2 70.1h0M205.0 70.8h0M209.9 67.5h0M214.5 75.9h0M218.1 73.2h0M229.0 70.2h0M204.1 72.2h0M210.4 69.0h0M205.2 71.9h0M207.7 85.7h0M222.5 88.0h0M215.7 88.3h0M210.3 86.5h0M222.6 86.8h0M235.8 84.8h0M208.9 85.2h0M223.6 83.7h0M211.8 88.2h0M219.4 87.5h0M218.4 85.1h0M203.7 100.8h0M206.3 100.5h0M199.2 100.6h0M209.4 100.4h0M200.2 100.5h0M228.4 103.2h0M217.6 99.4h0M214.3 101.5h0M215.4 102.5h0M206.9 100.1h0M211.8 99.9h0M206.7 100.4h0M216.0 100.8h0M199.2 100.6h0M201.0 100.8h0M205.9 100.3h0M210.0 100.3h0M224.3 104.1h0M203.0 100.4h0M220.1 98.1h0M209.8 100.2h0M235.7 100.7h0M220.8 112.1h0M218.5 114.2h0M234.1 115.3h0M222.2 116.1h0M209.5 114.9h0M233.0 114.2h0M209.2 115.4h0M217.1 114.8h0M218.8 115.2h0M229.4 115.2h0M225.8 114.2h0M208.9 115.1h0M212.5 116.3h0M229.2 129.3h0M215.6 129.8h0M214.0 129.8h0M218.2 130.5h0M216.7 129.5h0M216.5 130.4h0M238.8 129.9h0M214.9 130.2h0M373.3 56.7h0M316.7 60.9h0M325.6 56.5h0M306.0 56.2h0M338.0 56.4h0M309.0 55.4h0M309.5 55.9h0M323.2 57.3h0M320.6 54.1h0M309.9 58.0h0M324.2 56.0h0M303.6 56.7h0M351.4 56.3h0M357.0 57.1h0M349.6 56.2h0M345.2 57.2h0M327.8 55.9h0M334.0 56.9h0M336.0 57.1h0M316.8 61.5h0M350.6 72.2h0M346.3 70.3h0M355.2 71.5h0M325.4 69.7h0M369.7 71.8h0M365.9 71.1h0M355.9 71.7h0M368.2 71.6h0M347.4 72.0h0M372.1 71.2h0M373.9 71.4h0M346.4 71.4h0M358.4 70.8h0M367.9 70.0h0M353.8 72.2h0M347.3 70.7h0M340.1 85.9h0M358.2 87.1h0M343.5 85.7h0M353.4 86.2h0M335.9 85.5h0M352.2 86.3h0M365.2 86.8h0M354.8 85.8h0M352.7 86.3h0M361.6 85.4h0M353.3 86.1h0M350.1 86.2h0M357.5 85.7h0M349.6 86.4h0M354.0 86.6h0M344.1 86.1h0M338.9 84.7h0M359.3 100.7h0M352.3 101.0h0M358.7 100.9h0M332.1 103.5h0M367.0 100.5h0M368.6 101.0h0M358.7 101.1h0M366.4 101.4h0M369.0 100.7h0M359.6 101.5h0M334.9 99.1h0M362.4 100.1h0M359.6 100.1h0M345.2 99.1h0M364.8 101.0h0M362.1 100.7h0M360.8 101.3h0M368.0 100.6h0M350.8 101.2h0M367.7 100.9h0M333.3 103.0h0M368.5 100.5h0M356.5 100.3h0M343.5 101.6h0M355.1 114.8h0M338.7 116.8h0M364.1 115.1h0M345.0 114.8h0M359.4 115.7h0M343.5 113.6h0M341.1 112.6h0M348.2 114.9h0M343.1 114.7h0M348.9 115.6h0M360.2 115.7h0M362.5 115.5h0M330.4 130.6h0M345.7 130.9h0M350.3 131.1h0M327.4 130.1h0M345.2 129.4h0M335.0 130.8h0M348.2 129.9h0M344.4 131.1h0M356.2 130.6h0M502.3 58.0h0M519.5 56.4h0M454.3 55.5h0M495.3 56.5h0M520.2 56.8h0M459.1 57.2h0M448.9 56.4h0M479.0 57.9h0M468.5 55.0h0M447.5 58.7h0M513.8 56.0h0M466.3 55.8h0M453.2 57.2h0M505.0 58.2h0M450.0 56.2h0M516.6 56.7h0M492.9 54.9h0M487.3 54.2h0M458.2 56.4h0M477.7 57.4h0M506.8 56.6h0M469.5 55.1h0M501.2 56.1h0M465.2 56.2h0M487.2 56.2h0M472.9 55.5h0M477.1 55.8h0M443.6 55.7h0M476.9 58.3h0M449.0 56.6h0M511.7 56.4h0M486.3 54.5h0M474.7 57.2h0M506.3 58.3h0M483.0 55.7h0M489.6 54.3h0M474.3 54.9h0M475.4 56.8h0M509.2 55.2h0M469.3 55.4h0M443.3 52.2h0M453.2 55.5h0M450.2 55.9h0M496.1 58.9h0M467.3 57.9h0M472.5 71.5h0M457.9 74.3h0M444.5 72.7h0M455.0 69.8h0M446.5 72.7h0M462.0 72.5h0M462.2 73.2h0M476.3 69.7h0M448.5 73.8h0M455.3 68.0h0M486.9 86.9h0M452.2 88.6h0M451.6 86.0h0M448.6 89.0h0M459.4 82.7h0M462.0 86.9h0M487.2 85.2h0M454.4 85.5h0M490.3 85.6h0M462.7 86.7h0M460.2 86.5h0M462.7 85.7h0M465.0 86.2h0M485.5 87.2h0M489.4 85.6h0M454.6 85.6h0M491.7 85.9h0M449.5 87.1h0M449.2 85.5h0M449.9 97.6h0M466.2 100.6h0M446.9 102.2h0M475.4 103.2h0M456.1 101.8h0M468.0 100.5h0M451.2 99.2h0M471.8 98.7h0M484.6 100.2h0M477.8 101.3h0M484.9 101.9h0M439.3 100.9h0M452.7 96.7h0M467.6 100.1h0M477.8 100.4h0M458.4 100.7h0M450.0 103.9h0M463.3 101.4h0M443.5 101.7h0M486.1 101.6h0M480.7 101.8h0M461.3 102.7h0M457.4 98.6h0M483.6 100.8h0M461.4 104.0h0M457.7 96.8h0M472.7 100.1h0M462.3 99.9h0M474.2 101.0h0M440.8 100.5h0M483.1 100.4h0M481.3 100.1h0M477.8 101.1h0M486.7 100.4h0M482.0 99.5h0M488.3 115.0h0M471.1 113.2h0M466.6 116.0h0M467.5 116.7h0M466.3 116.6h0M462.7 118.1h0M463.0 113.7h0M448.0 115.0h0M456.0 111.8h0M478.2 113.6h0M460.6 110.9h0M476.4 115.8h0M454.2 117.9h0M474.6 114.0h0M444.6 115.5h0M444.3 115.1h0M470.2 113.6h0M483.2 114.4h0M466.4 114.7h0M468.6 115.4h0M479.1 116.1h0M487.8 115.4h0M465.9 114.2h0M448.8 115.5h0M473.4 117.8h0M450.9 130.2h0M455.0 129.7h0M458.1 129.0h0M476.4 130.3h0M479.8 130.2h0M474.8 129.4h0M452.4 130.3h0M464.7 131.7h0M477.1 129.9h0M452.0 130.7h0M475.7 129.6h0M454.2 129.8h0M450.6 130.3h0M480.9 130.2h0M453.7 130.7h0M473.1 128.9h0" stroke="#ea0874" stroke-width="1.05" stroke-linecap="round" fill="none"/>
<path d="M250.1 58.4h0M232.3 56.6h0M267.1 57.9h0M239.7 57.8h0M260.5 56.1h0M264.0 57.4h0M252.1 58.8h0M242.1 57.8h0M223.8 57.1h0M255.0 55.1h0M226.1 56.8h0M248.7 56.0h0M272.6 58.3h0M270.6 55.8h0M240.4 57.6h0M219.8 56.5h0M269.5 57.9h0M222.4 56.1h0M283.6 56.9h0M281.6 57.7h0M252.7 58.1h0M278.8 57.4h0M262.6 56.9h0M220.1 57.6h0M260.0 55.6h0M270.3 56.0h0M212.6 56.8h0M222.2 56.9h0M237.3 57.1h0M242.7 57.6h0M266.0 58.9h0M287.0 57.3h0M249.7 57.0h0M266.5 59.2h0M256.3 56.7h0M263.5 55.9h0M260.8 57.2h0M281.3 56.4h0M258.1 57.6h0M212.2 56.3h0M274.8 57.4h0M213.0 58.0h0M217.7 56.7h0M245.8 57.1h0M277.2 56.5h0M285.8 57.5h0M269.7 58.8h0M207.7 57.2h0M276.5 57.4h0M235.7 56.1h0M218.4 57.7h0M271.6 55.8h0M280.5 57.3h0M211.6 56.5h0M276.2 57.6h0M250.4 58.4h0M236.8 56.4h0M244.2 57.8h0M270.2 58.3h0M239.4 57.4h0M232.8 57.1h0M251.9 56.3h0M251.0 57.7h0M283.8 57.2h0M276.2 57.0h0M284.0 57.3h0M255.7 55.7h0M284.9 56.8h0M253.9 58.8h0M277.6 57.6h0M260.8 59.2h0M283.5 56.5h0M269.9 56.8h0M264.2 54.7h0M220.7 56.6h0M218.4 56.6h0M283.6 57.6h0M280.7 56.5h0M267.9 58.1h0M258.5 56.8h0M249.3 57.5h0M234.5 57.6h0M282.5 56.5h0M267.2 57.2h0M251.3 55.6h0M274.2 58.2h0M233.1 56.4h0M278.2 57.2h0M260.0 58.7h0M200.1 71.7h0M204.3 71.5h0M205.8 71.7h0M204.6 71.9h0M199.3 71.7h0M214.2 75.4h0M202.3 72.0h0M218.0 70.2h0M199.0 71.8h0M211.9 72.4h0M207.7 68.4h0M200.4 71.2h0M205.6 70.2h0M221.6 70.7h0M214.9 75.7h0M211.5 69.9h0M219.1 69.7h0M205.0 71.3h0M206.3 73.6h0M199.4 71.5h0M223.1 70.3h0M206.7 73.0h0M202.2 72.1h0M220.3 69.8h0M230.6 71.6h0M201.1 71.9h0M199.0 71.4h0M201.1 71.2h0M198.9 71.7h0M204.1 72.4h0M207.7 73.6h0M211.1 73.5h0M207.9 68.3h0M200.7 72.1h0M203.8 70.7h0M214.7 72.2h0M214.1 90.2h0M207.7 87.2h0M216.5 85.6h0M210.7 85.2h0M219.2 89.4h0M205.6 86.7h0M221.6 89.7h0M212.3 85.8h0M208.9 86.8h0M205.8 86.7h0M203.7 85.9h0M208.9 86.5h0M217.6 84.1h0M207.2 86.3h0M203.2 86.1h0M210.9 84.3h0M208.3 85.5h0M210.2 86.5h0M203.2 85.9h0M211.5 85.3h0M202.8 86.1h0M215.6 83.2h0M220.9 84.4h0M210.7 87.1h0M229.0 85.0h0M222.7 87.3h0M209.2 86.8h0M217.3 85.4h0M209.5 85.5h0M204.7 85.7h0M205.1 85.9h0M213.6 89.7h0M217.3 83.0h0M205.7 85.9h0M202.3 101.0h0M199.2 101.0h0M215.6 99.6h0M215.4 100.7h0M203.9 100.4h0M210.1 100.9h0M203.3 101.2h0M219.1 98.2h0M198.5 100.8h0M227.7 103.5h0M208.3 100.7h0M203.7 101.2h0M213.6 101.3h0M218.5 97.8h0M201.9 100.6h0M229.9 97.4h0M198.0 100.8h0M216.8 98.9h0M221.1 104.3h0M201.4 100.8h0M208.0 100.9h0M200.8 100.7h0M206.2 100.3h0M203.6 101.1h0M201.0 100.9h0M220.1 104.0h0M212.0 100.7h0M214.0 102.1h0M206.3 101.3h0M217.4 102.5h0M203.8 101.4h0M205.9 101.1h0M210.5 101.3h0M204.3 100.8h0M205.1 100.7h0M205.8 101.1h0M209.5 101.6h0M212.2 99.9h0M215.0 102.2h0M212.2 101.6h0M206.1 100.4h0M189.0 100.8h0M213.5 115.6h0M213.5 115.2h0M218.7 113.4h0M208.5 115.7h0M209.5 114.9h0M205.6 115.6h0M218.0 114.4h0M207.5 115.2h0M217.1 116.2h0M223.3 118.9h0M215.8 116.6h0M207.1 115.7h0M214.4 115.5h0M238.8 114.6h0M216.3 116.7h0M231.9 113.6h0M212.6 116.0h0M209.3 115.6h0M211.4 114.7h0M210.1 115.4h0M213.4 115.2h0M215.1 116.4h0M225.6 118.9h0M211.6 115.0h0M215.3 115.7h0M215.3 116.0h0M213.4 114.8h0M218.7 117.7h0M219.5 113.6h0M219.1 115.9h0M206.1 115.2h0M230.4 114.4h0M210.3 115.7h0M212.8 114.9h0M230.0 117.4h0M221.3 115.4h0M209.5 115.5h0M220.0 116.3h0M220.1 118.2h0M223.4 117.8h0M218.5 113.7h0M199.4 115.4h0M231.3 130.6h0M239.0 130.4h0M238.9 129.8h0M234.2 129.7h0M233.7 130.8h0M232.6 130.0h0M235.2 129.7h0M234.3 130.1h0M216.8 130.5h0M237.4 130.3h0M323.6 55.8h0M315.9 51.8h0M341.1 55.9h0M323.3 55.7h0M306.0 56.3h0M318.9 56.8h0M313.0 58.6h0M320.6 59.0h0M311.8 56.4h0M304.3 56.5h0M304.9 56.9h0M313.7 56.7h0M320.4 54.5h0M316.9 52.5h0M325.1 55.8h0M315.5 61.2h0M339.5 57.1h0M328.0 56.4h0M331.5 56.5h0M339.3 56.1h0M362.1 57.4h0M343.5 57.0h0M304.5 56.6h0M318.8 59.6h0M314.5 60.7h0M307.4 57.4h0M356.0 57.0h0M368.7 56.2h0M310.1 57.0h0M333.1 56.3h0M319.9 58.0h0M307.8 55.9h0M321.8 57.5h0M305.3 56.9h0M318.3 54.1h0M307.8 56.9h0M309.2 57.4h0M311.8 59.1h0M313.1 53.9h0M314.8 54.4h0M313.1 58.8h0M337.3 56.2h0M327.2 57.5h0M339.4 56.5h0M323.4 54.9h0M353.8 57.3h0M369.4 70.3h0M361.0 71.6h0M356.9 72.1h0M364.6 72.1h0M344.8 71.1h0M344.9 72.2h0M366.0 72.2h0M337.3 70.9h0M370.6 71.9h0M368.7 71.4h0M368.0 72.1h0M369.9 70.5h0M333.1 73.2h0M373.5 71.3h0M362.2 70.6h0M369.7 71.2h0M360.3 70.9h0M339.1 72.5h0M366.8 70.9h0M355.5 70.4h0M372.3 71.1h0M354.5 70.5h0M371.3 72.0h0M364.3 71.7h0M373.7 71.6h0M361.8 70.9h0M365.4 71.7h0M355.8 70.6h0M374.1 71.2h0M372.3 71.5h0M355.0 85.7h0M366.7 86.2h0M353.9 86.9h0M361.1 85.8h0M357.0 85.9h0M348.0 85.8h0M349.5 85.6h0M342.1 87.4h0M357.3 87.1h0M366.3 86.1h0M367.1 86.5h0M361.6 85.5h0M358.2 85.6h0M357.3 85.7h0M337.4 84.9h0M345.1 86.1h0M343.3 86.9h0M360.0 86.1h0M363.1 86.0h0M367.5 85.9h0M351.1 86.5h0M344.3 85.8h0M362.2 85.6h0M365.5 86.7h0M353.9 85.4h0M363.3 100.4h0M368.2 101.1h0M347.7 99.6h0M348.0 99.6h0M339.5 102.6h0M349.8 101.3h0M367.0 100.7h0M345.4 100.9h0M367.3 101.1h0M368.8 100.8h0M365.8 101.3h0M346.1 100.8h0M344.3 103.3h0M355.9 100.5h0M348.2 99.3h0M358.2 101.0h0M362.1 101.6h0M355.8 100.0h0M365.2 100.9h0M364.4 100.9h0M352.9 101.7h0M366.7 101.1h0M356.7 101.6h0M342.0 97.6h0M358.7 100.3h0M351.7 101.6h0M356.3 100.5h0M356.6 100.7h0M359.0 100.2h0M362.6 100.2h0M354.8 100.3h0M361.6 100.4h0M363.2 100.6h0M364.3 101.5h0M365.1 100.8h0M339.8 100.1h0M346.2 100.4h0M343.6 101.1h0M350.1 100.1h0M343.3 102.0h0M345.6 103.1h0M350.9 100.1h0M344.9 98.9h0M345.9 100.4h0M347.5 99.1h0M343.1 98.0h0M356.2 100.7h0M378.4 100.8h0M362.6 114.9h0M336.3 117.3h0M360.9 115.0h0M364.4 115.4h0M340.3 115.2h0M360.8 115.3h0M345.2 116.3h0M341.4 115.8h0M363.3 115.0h0M344.1 114.5h0M347.2 114.9h0M341.8 116.7h0M348.0 114.3h0M363.7 115.5h0M347.9 114.9h0M346.8 115.7h0M349.7 114.5h0M341.2 117.3h0M362.9 114.9h0M340.0 118.2h0M342.0 118.6h0M356.1 115.1h0M364.3 115.4h0M346.5 129.5h0M358.3 129.9h0M343.9 131.3h0M345.3 131.1h0M341.5 131.1h0M327.6 130.2h0M351.1 130.2h0M358.8 130.1h0M350.6 130.4h0M342.8 129.0h0M474.8 54.6h0M455.8 55.6h0M511.6 57.2h0M453.0 53.9h0M461.2 55.4h0M484.8 58.5h0M458.4 53.9h0M459.6 54.4h0M447.9 57.2h0M474.6 55.9h0M453.8 58.1h0M461.7 56.0h0M475.1 56.8h0M516.6 56.6h0M515.2 57.2h0M473.2 56.7h0M485.2 58.7h0M497.6 56.3h0M469.0 57.3h0M443.6 54.3h0M514.9 56.5h0M472.6 56.4h0M491.9 53.6h0M491.9 54.5h0M452.4 53.6h0M460.2 56.7h0M512.1 56.8h0M450.1 58.9h0M457.9 54.2h0M488.5 55.6h0M506.9 55.0h0M482.4 56.6h0M518.1 56.8h0M454.4 58.8h0M449.6 56.7h0M441.0 53.8h0M446.5 53.6h0M479.4 55.5h0M476.4 55.6h0M479.1 58.0h0M442.8 57.8h0M445.1 57.8h0M486.9 57.1h0M489.8 55.9h0M448.0 60.1h0M444.4 53.1h0M460.9 56.1h0M517.1 56.2h0M473.4 54.7h0M445.2 57.4h0M450.1 56.2h0M458.4 58.9h0M470.9 58.3h0M505.7 55.2h0M510.8 56.2h0M488.6 55.3h0M501.7 59.1h0M447.4 59.4h0M516.3 56.6h0M477.9 55.1h0M447.8 60.5h0M509.5 57.0h0M507.7 58.1h0M520.5 56.4h0M496.8 53.7h0M488.7 55.0h0M470.8 55.7h0M501.7 55.5h0M463.3 55.9h0M468.1 57.4h0M491.1 54.4h0M518.3 56.7h0M449.8 54.2h0M493.3 57.6h0M474.5 72.9h0M475.2 72.3h0M469.4 71.8h0M446.3 70.5h0M470.2 72.3h0M461.3 72.8h0M477.4 71.4h0M457.4 70.5h0M505.0 71.9h0M507.0 71.9h0M452.0 82.4h0M465.7 86.3h0M490.2 85.5h0M478.6 84.5h0M493.1 86.3h0M448.9 86.9h0M457.6 83.5h0M460.0 86.5h0M483.2 87.0h0M490.4 86.5h0M457.2 83.7h0M454.2 88.3h0M491.4 85.8h0M494.4 86.1h0M461.2 85.3h0M453.1 81.6h0M461.5 86.4h0M457.0 98.5h0M482.9 100.0h0M439.1 100.9h0M483.0 100.6h0M453.2 97.2h0M477.9 99.5h0M473.8 100.2h0M479.4 101.3h0M453.6 96.1h0M487.5 101.6h0M457.0 95.8h0M438.5 100.9h0M488.2 101.3h0M459.4 103.5h0M489.1 100.8h0M438.2 100.9h0M488.3 100.9h0M459.4 101.6h0M461.3 101.7h0M488.9 100.6h0M451.0 104.5h0M440.0 100.9h0M483.9 101.6h0M486.1 101.4h0M454.6 99.4h0M483.1 102.0h0M481.0 102.4h0M479.7 103.3h0M479.2 102.5h0M474.4 101.7h0M457.9 100.0h0M478.4 100.4h0M479.6 99.1h0M449.0 97.6h0M455.7 98.3h0M461.7 98.8h0M475.8 101.1h0M474.0 101.1h0M455.7 105.0h0M452.9 100.4h0M455.2 101.7h0M443.6 101.1h0M478.2 102.7h0M496.2 100.9h0M443.2 115.1h0M444.7 115.6h0M462.1 115.4h0M455.4 112.4h0M469.3 116.9h0M480.6 113.9h0M470.0 114.1h0M475.1 114.8h0M476.4 113.9h0M489.3 115.1h0M488.0 115.2h0M455.7 119.6h0M466.9 115.3h0M455.8 116.4h0M475.0 113.0h0M477.2 114.4h0M470.0 117.0h0M448.2 115.3h0M452.0 114.9h0M444.1 115.2h0M483.0 115.1h0M469.9 117.5h0M452.0 115.4h0M452.1 114.5h0M486.8 115.4h0M460.7 112.5h0M477.3 116.0h0M471.2 113.4h0M447.0 115.0h0M472.9 112.7h0M488.7 115.4h0M470.8 116.0h0M458.5 119.9h0M456.2 114.6h0M452.9 114.9h0M452.2 113.0h0M455.4 115.2h0M454.4 112.2h0M467.3 114.5h0M472.1 114.2h0M472.4 113.5h0M443.9 115.2h0M466.9 114.5h0M473.0 114.8h0M487.6 115.5h0M460.8 114.9h0M481.8 130.5h0M480.2 130.3h0M450.6 130.6h0M452.0 130.5h0M479.9 130.5h0M480.5 130.4h0M479.7 130.6h0M478.3 130.7h0M480.1 130.8h0M454.2 130.2h0M452.5 129.9h0M481.5 130.8h0M452.5 130.1h0M455.9 130.3h0M451.2 130.4h0M469.2 130.0h0M450.9 130.2h0M440.0 130.5h0" stroke="#ff0052" stroke-width="1.05" stroke-linecap="round" fill="none"/>
<text x="6.90" y="172.20" font-family='"Liberation Sans",sans-serif' font-size="8.2" font-weight="bold" text-anchor="start" fill="#111"  stroke="#111" stroke-width="0.25">b</text>
<rect x="41.8" y="184.2" width="134.20" height="129.80" fill="none" stroke="#9a9a9a" stroke-width="0.9"/>
<rect x="189.5" y="184.4" width="133.80" height="129.90" fill="none" stroke="#9a9a9a" stroke-width="0.9"/>
<rect x="336.4" y="184.4" width="135.40" height="131.80" fill="none" stroke="#9a9a9a" stroke-width="0.9"/>
<text x="84.20" y="180.90" font-family='"Liberation Sans",sans-serif' font-size="6.3" font-weight="bold" text-anchor="start" fill="#111"  textLength="39.5" lengthAdjust="spacingAndGlyphs" stroke="#111" stroke-width="0.18">Low Density</text>
<text x="227.90" y="180.90" font-family='"Liberation Sans",sans-serif' font-size="6.3" font-weight="bold" text-anchor="start" fill="#111"  textLength="51.9" lengthAdjust="spacingAndGlyphs" stroke="#111" stroke-width="0.18">Medium Density</text>
<text x="382.50" y="180.90" font-family='"Liberation Sans",sans-serif' font-size="6.3" font-weight="bold" text-anchor="start" fill="#111"  textLength="41.6" lengthAdjust="spacingAndGlyphs" stroke="#111" stroke-width="0.18">High Density</text>
<line x1="39.80" y1="190.20" x2="41.8" y2="190.20" stroke="#333" stroke-width="0.5"/>
<text x="39.20" y="191.50" font-family='"Liberation Sans",sans-serif' font-size="3.7" font-weight="normal" text-anchor="end" fill="#333" >0.04</text>
<line x1="39.80" y1="216.50" x2="41.8" y2="216.50" stroke="#333" stroke-width="0.5"/>
<text x="39.20" y="217.80" font-family='"Liberation Sans",sans-serif' font-size="3.7" font-weight="normal" text-anchor="end" fill="#333" >0.02</text>
<line x1="39.80" y1="242.80" x2="41.8" y2="242.80" stroke="#333" stroke-width="0.5"/>
<text x="39.20" y="244.10" font-family='"Liberation Sans",sans-serif' font-size="3.7" font-weight="normal" text-anchor="end" fill="#333" >0.00</text>
<line x1="39.80" y1="269.20" x2="41.8" y2="269.20" stroke="#333" stroke-width="0.5"/>
<text x="39.20" y="270.50" font-family='"Liberation Sans",sans-serif' font-size="3.7" font-weight="normal" text-anchor="end" fill="#333" >−0.02</text>
<line x1="39.80" y1="295.60" x2="41.8" y2="295.60" stroke="#333" stroke-width="0.5"/>
<text x="39.20" y="296.90" font-family='"Liberation Sans",sans-serif' font-size="3.7" font-weight="normal" text-anchor="end" fill="#333" >−0.04</text>
<line x1="57.00" y1="314.0" x2="57.00" y2="316.00" stroke="#333" stroke-width="0.5"/>
<text x="57.00" y="320.30" font-family='"Liberation Sans",sans-serif' font-size="3.7" font-weight="normal" text-anchor="middle" fill="#333" >0.04</text>
<line x1="75.10" y1="314.0" x2="75.10" y2="316.00" stroke="#333" stroke-width="0.5"/>
<text x="75.10" y="320.30" font-family='"Liberation Sans",sans-serif' font-size="3.7" font-weight="normal" text-anchor="middle" fill="#333" >0.06</text>
<line x1="93.20" y1="314.0" x2="93.20" y2="316.00" stroke="#333" stroke-width="0.5"/>
<text x="93.20" y="320.30" font-family='"Liberation Sans",sans-serif' font-size="3.7" font-weight="normal" text-anchor="middle" fill="#333" >0.08</text>
<line x1="111.30" y1="314.0" x2="111.30" y2="316.00" stroke="#333" stroke-width="0.5"/>
<text x="111.30" y="320.30" font-family='"Liberation Sans",sans-serif' font-size="3.7" font-weight="normal" text-anchor="middle" fill="#333" >0.10</text>
<line x1="129.40" y1="314.0" x2="129.40" y2="316.00" stroke="#333" stroke-width="0.5"/>
<text x="129.40" y="320.30" font-family='"Liberation Sans",sans-serif' font-size="3.7" font-weight="normal" text-anchor="middle" fill="#333" >0.12</text>
<line x1="147.50" y1="314.0" x2="147.50" y2="316.00" stroke="#333" stroke-width="0.5"/>
<text x="147.50" y="320.30" font-family='"Liberation Sans",sans-serif' font-size="3.7" font-weight="normal" text-anchor="middle" fill="#333" >0.14</text>
<line x1="165.60" y1="314.0" x2="165.60" y2="316.00" stroke="#333" stroke-width="0.5"/>
<text x="165.60" y="320.30" font-family='"Liberation Sans",sans-serif' font-size="3.7" font-weight="normal" text-anchor="middle" fill="#333" >0.16</text>
<line x1="187.50" y1="190.20" x2="189.5" y2="190.20" stroke="#333" stroke-width="0.5"/>
<text x="186.90" y="191.50" font-family='"Liberation Sans",sans-serif' font-size="3.7" font-weight="normal" text-anchor="end" fill="#333" >0.06</text>
<line x1="187.50" y1="237.60" x2="189.5" y2="237.60" stroke="#333" stroke-width="0.5"/>
<text x="186.90" y="238.90" font-family='"Liberation Sans",sans-serif' font-size="3.7" font-weight="normal" text-anchor="end" fill="#333" >0.02</text>
<line x1="187.50" y1="285.00" x2="189.5" y2="285.00" stroke="#333" stroke-width="0.5"/>
<text x="186.90" y="286.30" font-family='"Liberation Sans",sans-serif' font-size="3.7" font-weight="normal" text-anchor="end" fill="#333" >−0.02</text>
<line x1="195.40" y1="314.3" x2="195.40" y2="316.30" stroke="#333" stroke-width="0.5"/>
<text x="195.40" y="320.30" font-family='"Liberation Sans",sans-serif' font-size="3.7" font-weight="normal" text-anchor="middle" fill="#333" >0.02</text>
<line x1="211.63" y1="314.3" x2="211.63" y2="316.30" stroke="#333" stroke-width="0.5"/>
<text x="211.63" y="320.30" font-family='"Liberation Sans",sans-serif' font-size="3.7" font-weight="normal" text-anchor="middle" fill="#333" >0.04</text>
<line x1="227.86" y1="314.3" x2="227.86" y2="316.30" stroke="#333" stroke-width="0.5"/>
<text x="227.86" y="320.30" font-family='"Liberation Sans",sans-serif' font-size="3.7" font-weight="normal" text-anchor="middle" fill="#333" >0.06</text>
<line x1="244.09" y1="314.3" x2="244.09" y2="316.30" stroke="#333" stroke-width="0.5"/>
<text x="244.09" y="320.30" font-family='"Liberation Sans",sans-serif' font-size="3.7" font-weight="normal" text-anchor="middle" fill="#333" >0.08</text>
<line x1="260.32" y1="314.3" x2="260.32" y2="316.30" stroke="#333" stroke-width="0.5"/>
<text x="260.32" y="320.30" font-family='"Liberation Sans",sans-serif' font-size="3.7" font-weight="normal" text-anchor="middle" fill="#333" >0.10</text>
<line x1="276.55" y1="314.3" x2="276.55" y2="316.30" stroke="#333" stroke-width="0.5"/>
<text x="276.55" y="320.30" font-family='"Liberation Sans",sans-serif' font-size="3.7" font-weight="normal" text-anchor="middle" fill="#333" >0.12</text>
<line x1="292.78" y1="314.3" x2="292.78" y2="316.30" stroke="#333" stroke-width="0.5"/>
<text x="292.78" y="320.30" font-family='"Liberation Sans",sans-serif' font-size="3.7" font-weight="normal" text-anchor="middle" fill="#333" >0.14</text>
<line x1="309.01" y1="314.3" x2="309.01" y2="316.30" stroke="#333" stroke-width="0.5"/>
<text x="309.01" y="320.30" font-family='"Liberation Sans",sans-serif' font-size="3.7" font-weight="normal" text-anchor="middle" fill="#333" >0.16</text>
<line x1="334.40" y1="190.60" x2="336.4" y2="190.60" stroke="#333" stroke-width="0.5"/>
<text x="333.80" y="191.90" font-family='"Liberation Sans",sans-serif' font-size="3.7" font-weight="normal" text-anchor="end" fill="#333" >0.06</text>
<line x1="334.40" y1="224.80" x2="336.4" y2="224.80" stroke="#333" stroke-width="0.5"/>
<text x="333.80" y="226.10" font-family='"Liberation Sans",sans-serif' font-size="3.7" font-weight="normal" text-anchor="end" fill="#333" >0.04</text>
<line x1="334.40" y1="259.00" x2="336.4" y2="259.00" stroke="#333" stroke-width="0.5"/>
<text x="333.80" y="260.30" font-family='"Liberation Sans",sans-serif' font-size="3.7" font-weight="normal" text-anchor="end" fill="#333" >0.02</text>
<line x1="334.40" y1="293.20" x2="336.4" y2="293.20" stroke="#333" stroke-width="0.5"/>
<text x="333.80" y="294.50" font-family='"Liberation Sans",sans-serif' font-size="3.7" font-weight="normal" text-anchor="end" fill="#333" >0.00</text>
<line x1="367.20" y1="316.2" x2="367.20" y2="318.20" stroke="#333" stroke-width="0.5"/>
<text x="367.20" y="322.00" font-family='"Liberation Sans",sans-serif' font-size="3.7" font-weight="normal" text-anchor="middle" fill="#333" >0.04</text>
<line x1="399.93" y1="316.2" x2="399.93" y2="318.20" stroke="#333" stroke-width="0.5"/>
<text x="399.93" y="322.00" font-family='"Liberation Sans",sans-serif' font-size="3.7" font-weight="normal" text-anchor="middle" fill="#333" >0.06</text>
<line x1="432.66" y1="316.2" x2="432.66" y2="318.20" stroke="#333" stroke-width="0.5"/>
<text x="432.66" y="322.00" font-family='"Liberation Sans",sans-serif' font-size="3.7" font-weight="normal" text-anchor="middle" fill="#333" >0.08</text>
<line x1="465.39" y1="316.2" x2="465.39" y2="318.20" stroke="#333" stroke-width="0.5"/>
<text x="465.39" y="322.00" font-family='"Liberation Sans",sans-serif' font-size="3.7" font-weight="normal" text-anchor="middle" fill="#333" >0.10</text>
<line x1="99.3" y1="322.3" x2="100.7" y2="322.3" stroke="#555" stroke-width="0.5"/>
<line x1="246.3" y1="322.1" x2="247.7" y2="322.1" stroke="#555" stroke-width="0.5"/>
<text x="226.90" y="333.50" font-family='"Liberation Serif",serif' font-size="7.64" font-weight="normal" text-anchor="start" fill="#222" >Mean SHAP values</text>
<text x="0.00" y="0.00" font-family='"Liberation Serif",serif' font-size="7.04" font-weight="normal" text-anchor="middle" fill="#555" transform="translate(25.6,244.75) rotate(-90)">Bias (DFT Modulus − Original Image)</text>
<polyline points="66,242.6 79.6,229.4 102.3,242.9 165.4,216.1" fill="none" stroke="#ffda4a" stroke-width="0.9" stroke-linejoin="round"/>
<circle cx="66" cy="242.6" r="1.0" fill="#ffcf10"/>
<circle cx="79.6" cy="229.4" r="1.0" fill="#ffcf10"/>
<circle cx="102.3" cy="242.9" r="1.0" fill="#ffcf10"/>
<circle cx="165.4" cy="216.1" r="1.0" fill="#ffcf10"/>
<polyline points="56.9,242.6 70.5,229.4 79.6,229.4 97.5,255.6 165.4,216.1" fill="none" stroke="#fb9f8a" stroke-width="0.9" stroke-linejoin="round"/>
<circle cx="56.9" cy="242.6" r="1.0" fill="#f77a66"/>
<circle cx="70.5" cy="229.4" r="1.0" fill="#f77a66"/>
<circle cx="79.6" cy="229.4" r="1.0" fill="#f77a66"/>
<circle cx="97.5" cy="255.6" r="1.0" fill="#f77a66"/>
<circle cx="165.4" cy="216.1" r="1.0" fill="#f77a66"/>
<polyline points="53.5,254.8 66,242.6 93,189.5 111.2,216.3 142.4,282" fill="none" stroke="#f57aa0" stroke-width="0.9" stroke-linejoin="round"/>
<circle cx="53.5" cy="254.8" r="1.0" fill="#ee4a88"/>
<circle cx="66" cy="242.6" r="1.0" fill="#ee4a88"/>
<circle cx="93" cy="189.5" r="1.0" fill="#ee4a88"/>
<circle cx="111.2" cy="216.3" r="1.0" fill="#ee4a88"/>
<circle cx="142.4" cy="282" r="1.0" fill="#ee4a88"/>
<polyline points="56.9,242.6 61.5,229.3 75,216 84,216 106.5,229.2 133.7,309" fill="none" stroke="#a855ff" stroke-width="0.9" stroke-linejoin="round"/>
<circle cx="56.9" cy="242.6" r="1.0" fill="#a040ff"/>
<circle cx="61.5" cy="229.3" r="1.0" fill="#a040ff"/>
<circle cx="75" cy="216" r="1.0" fill="#a040ff"/>
<circle cx="84" cy="216" r="1.0" fill="#a040ff"/>
<circle cx="106.5" cy="229.2" r="1.0" fill="#a040ff"/>
<circle cx="133.7" cy="309" r="1.0" fill="#a040ff"/>
<polyline points="47.9,269 56.9,242.6 70.5,229.4 79.6,229.4 106.5,229.2 170,203" fill="none" stroke="#4646ff" stroke-width="0.9" stroke-linejoin="round"/>
<circle cx="47.9" cy="269" r="1.0" fill="#2020ee"/>
<circle cx="56.9" cy="242.6" r="1.0" fill="#2020ee"/>
<circle cx="70.5" cy="229.4" r="1.0" fill="#2020ee"/>
<circle cx="79.6" cy="229.4" r="1.0" fill="#2020ee"/>
<circle cx="106.5" cy="229.2" r="1.0" fill="#2020ee"/>
<circle cx="170" cy="203" r="1.0" fill="#2020ee"/>
<polyline points="224.2,226 252.3,284.9 309,213.8" fill="none" stroke="#ffda4a" stroke-width="0.9" stroke-linejoin="round"/>
<circle cx="224.2" cy="226" r="1.0" fill="#ffcf10"/>
<circle cx="252.3" cy="284.9" r="1.0" fill="#ffcf10"/>
<circle cx="309" cy="213.8" r="1.0" fill="#ffcf10"/>
<polyline points="219.8,237.2 252.3,284.9 313.2,201.9" fill="none" stroke="#fb9f8a" stroke-width="0.9" stroke-linejoin="round"/>
<circle cx="219.8" cy="237.2" r="1.0" fill="#f77a66"/>
<circle cx="252.3" cy="284.9" r="1.0" fill="#f77a66"/>
<circle cx="313.2" cy="201.9" r="1.0" fill="#f77a66"/>
<polyline points="227.7,213.5 231.7,201.9 268.3,237.3 289,273" fill="none" stroke="#f57aa0" stroke-width="0.9" stroke-linejoin="round"/>
<circle cx="227.7" cy="213.5" r="1.0" fill="#ee4a88"/>
<circle cx="231.7" cy="201.9" r="1.0" fill="#ee4a88"/>
<circle cx="268.3" cy="237.3" r="1.0" fill="#ee4a88"/>
<circle cx="289" cy="273" r="1.0" fill="#ee4a88"/>
<polyline points="199.3,273.1 215.8,249.3 227.7,213.5 260.2,260.9 276.3,308.6" fill="none" stroke="#a855ff" stroke-width="0.9" stroke-linejoin="round"/>
<circle cx="199.3" cy="273.1" r="1.0" fill="#a040ff"/>
<circle cx="215.8" cy="249.3" r="1.0" fill="#a040ff"/>
<circle cx="227.7" cy="213.5" r="1.0" fill="#a040ff"/>
<circle cx="260.2" cy="260.9" r="1.0" fill="#a040ff"/>
<circle cx="276.3" cy="308.6" r="1.0" fill="#a040ff"/>
<polyline points="195.3,285 207.5,273.1 215.8,249.3 219.8,237.2 252.3,284.9 317.1,190.2" fill="none" stroke="#4646ff" stroke-width="0.9" stroke-linejoin="round"/>
<circle cx="195.3" cy="285" r="1.0" fill="#2020ee"/>
<circle cx="207.5" cy="273.1" r="1.0" fill="#2020ee"/>
<circle cx="215.8" cy="249.3" r="1.0" fill="#2020ee"/>
<circle cx="219.8" cy="237.2" r="1.0" fill="#2020ee"/>
<circle cx="252.3" cy="284.9" r="1.0" fill="#2020ee"/>
<circle cx="317.1" cy="190.2" r="1.0" fill="#2020ee"/>
<polyline points="408.2,275.9 447.6,226.3" fill="none" stroke="#ffda4a" stroke-width="0.9" stroke-linejoin="round"/>
<circle cx="408.2" cy="275.9" r="1.0" fill="#ffcf10"/>
<circle cx="447.6" cy="226.3" r="1.0" fill="#ffcf10"/>
<polyline points="350.7,293.2 367.2,293.2 375.3,275.8 416.5,258.7 448.9,224.5" fill="none" stroke="#fb9f8a" stroke-width="0.9" stroke-linejoin="round"/>
<circle cx="350.7" cy="293.2" r="1.0" fill="#f77a66"/>
<circle cx="367.2" cy="293.2" r="1.0" fill="#f77a66"/>
<circle cx="375.3" cy="275.8" r="1.0" fill="#f77a66"/>
<circle cx="416.5" cy="258.7" r="1.0" fill="#f77a66"/>
<circle cx="448.9" cy="224.5" r="1.0" fill="#f77a66"/>
<polyline points="342.4,310.2 367.2,293.2 375.3,275.8 399.7,224.5 424.5,276.1" fill="none" stroke="#f57aa0" stroke-width="0.9" stroke-linejoin="round"/>
<circle cx="342.4" cy="310.2" r="1.0" fill="#ee4a88"/>
<circle cx="367.2" cy="293.2" r="1.0" fill="#ee4a88"/>
<circle cx="375.3" cy="275.8" r="1.0" fill="#ee4a88"/>
<circle cx="399.7" cy="224.5" r="1.0" fill="#ee4a88"/>
<circle cx="424.5" cy="276.1" r="1.0" fill="#ee4a88"/>
<polyline points="342.4,310.2 375.3,275.8 383.6,258.6 408.2,275.9 432.5,258.7" fill="none" stroke="#a855ff" stroke-width="0.9" stroke-linejoin="round"/>
<circle cx="342.4" cy="310.2" r="1.0" fill="#a040ff"/>
<circle cx="375.3" cy="275.8" r="1.0" fill="#a040ff"/>
<circle cx="383.6" cy="258.6" r="1.0" fill="#a040ff"/>
<circle cx="408.2" cy="275.9" r="1.0" fill="#a040ff"/>
<circle cx="432.5" cy="258.7" r="1.0" fill="#a040ff"/>
<polyline points="350.7,293.2 375.3,275.8 383.6,258.6 391.7,241.5 416.5,258.7 465.5,190.4" fill="none" stroke="#4646ff" stroke-width="0.9" stroke-linejoin="round"/>
<circle cx="350.7" cy="293.2" r="1.0" fill="#2020ee"/>
<circle cx="375.3" cy="275.8" r="1.0" fill="#2020ee"/>
<circle cx="383.6" cy="258.6" r="1.0" fill="#2020ee"/>
<circle cx="391.7" cy="241.5" r="1.0" fill="#2020ee"/>
<circle cx="416.5" cy="258.7" r="1.0" fill="#2020ee"/>
<circle cx="465.5" cy="190.4" r="1.0" fill="#2020ee"/>
<rect x="119.1" y="340.6" width="274.9" height="8.4" rx="1" fill="#fff" stroke="#d9d9d9" stroke-width="0.5"/>
<line x1="120.7" y1="344.8" x2="130.3" y2="344.8" stroke="#ffda4a" stroke-width="0.75"/>
<circle cx="125.50" cy="344.8" r="1.0" fill="#ffcf10"/>
<text x="133.90" y="346.50" font-family='"Liberation Sans",sans-serif' font-size="4.85" font-weight="normal" text-anchor="start" fill="#333" >DFT, u</text>
<line x1="151.6" y1="344.8" x2="160.9" y2="344.8" stroke="#fb9f8a" stroke-width="0.75"/>
<circle cx="156.25" cy="344.8" r="1.0" fill="#f77a66"/>
<text x="164.60" y="346.50" font-family='"Liberation Sans",sans-serif' font-size="4.85" font-weight="normal" text-anchor="start" fill="#333" >DFT, p (PPSD)</text>
<line x1="199.5" y1="344.8" x2="209.3" y2="344.8" stroke="#f57aa0" stroke-width="0.75"/>
<circle cx="204.40" cy="344.8" r="1.0" fill="#ee4a88"/>
<text x="212.30" y="346.50" font-family='"Liberation Sans",sans-serif' font-size="4.85" font-weight="normal" text-anchor="start" fill="#333" >DFT, Low-rank (Robust PCA)</text>
<line x1="279.7" y1="344.8" x2="289.5" y2="344.8" stroke="#a855ff" stroke-width="0.75"/>
<circle cx="284.60" cy="344.8" r="1.0" fill="#a040ff"/>
<text x="293.00" y="346.50" font-family='"Liberation Sans",sans-serif' font-size="4.85" font-weight="normal" text-anchor="start" fill="#333" >DFT, Sparse (Robust PCA)</text>
<line x1="354.2" y1="344.8" x2="364.0" y2="344.8" stroke="#4646ff" stroke-width="0.75"/>
<circle cx="359.10" cy="344.8" r="1.0" fill="#2020ee"/>
<text x="367.80" y="346.50" font-family='"Liberation Sans",sans-serif' font-size="4.85" font-weight="normal" text-anchor="start" fill="#333" >DFT, PPSW</text>
</svg>
</body></html>
